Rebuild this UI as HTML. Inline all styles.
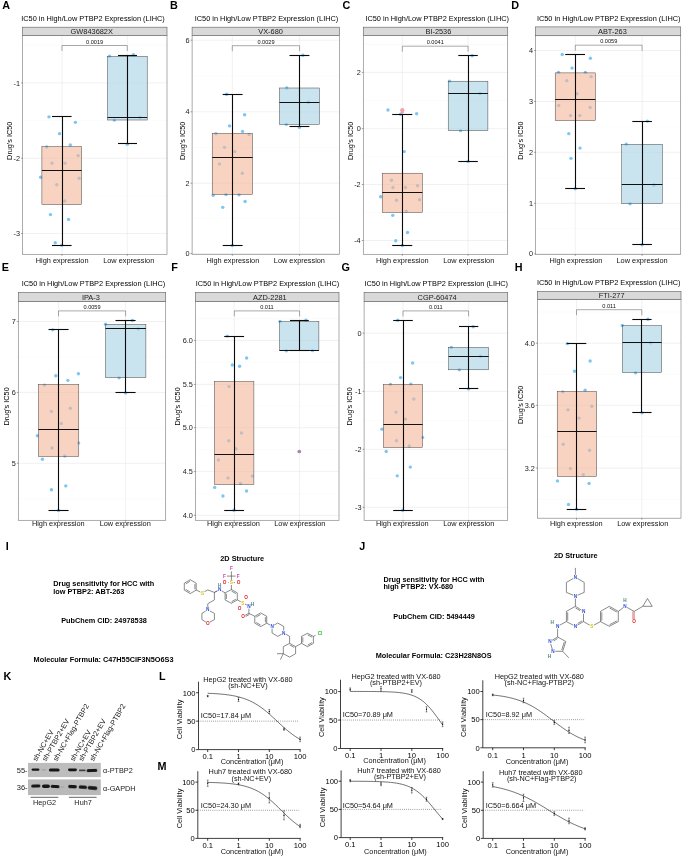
<!DOCTYPE html>
<html><head><meta charset="utf-8"><title>Figure</title>
<style>html,body{margin:0;padding:0;background:#fff}svg{display:block}</style></head>
<body>
<svg width="685" height="857" viewBox="0 0 685 857" font-family="Liberation Sans, Arial, sans-serif">
<rect width="685" height="857" fill="#fff"/>
<rect x="22.6" y="35.6" width="144.4" height="218.7" fill="#fff"/>
<line x1="22.6" x2="167" y1="120.55" y2="120.55" stroke="#f2f2f2" stroke-width="0.35"/>
<line x1="22.6" x2="167" y1="195.85" y2="195.85" stroke="#f2f2f2" stroke-width="0.35"/>
<line x1="22.6" x2="167" y1="45.25" y2="45.25" stroke="#f2f2f2" stroke-width="0.35"/>
<line x1="22.6" x2="167" y1="82.9" y2="82.9" stroke="#e6e6e6" stroke-width="0.55"/>
<line x1="22.6" x2="167" y1="158.2" y2="158.2" stroke="#e6e6e6" stroke-width="0.55"/>
<line x1="22.6" x2="167" y1="233.5" y2="233.5" stroke="#e6e6e6" stroke-width="0.55"/>
<line x1="62" x2="62" y1="35.6" y2="254.3" stroke="#e6e6e6" stroke-width="0.55"/>
<line x1="127.3" x2="127.3" y1="35.6" y2="254.3" stroke="#e6e6e6" stroke-width="0.55"/>
<circle cx="48.99" cy="116.83" r="1.7" fill="#7cc6f4"/>
<circle cx="75.38" cy="122.36" r="1.7" fill="#7cc6f4"/>
<circle cx="59.55" cy="133.67" r="1.7" fill="#7cc6f4"/>
<circle cx="109.55" cy="56.28" r="1.7" fill="#7cc6f4"/>
<circle cx="133.42" cy="54.77" r="1.7" fill="#7cc6f4"/>
<circle cx="114.32" cy="120.1" r="1.7" fill="#7cc6f4"/>
<circle cx="139.95" cy="117.34" r="1.7" fill="#7cc6f4"/>
<circle cx="70.31" cy="145.07" r="1.7" fill="#7cc6f4"/>
<circle cx="46.7" cy="147.07" r="1.7" fill="#7cc6f4"/>
<circle cx="78.09" cy="155.61" r="1.7" fill="#7cc6f4"/>
<circle cx="51.98" cy="163.15" r="1.7" fill="#7cc6f4"/>
<circle cx="65.03" cy="163.15" r="1.7" fill="#7cc6f4"/>
<circle cx="40.68" cy="177.21" r="1.7" fill="#7cc6f4"/>
<circle cx="79.1" cy="178.21" r="1.7" fill="#7cc6f4"/>
<circle cx="56.75" cy="184.74" r="1.7" fill="#7cc6f4"/>
<circle cx="64.78" cy="201.06" r="1.7" fill="#7cc6f4"/>
<circle cx="50.47" cy="214.62" r="1.7" fill="#7cc6f4"/>
<circle cx="68.55" cy="219.39" r="1.7" fill="#7cc6f4"/>
<circle cx="55.24" cy="242.74" r="1.7" fill="#7cc6f4"/>
<circle cx="61.77" cy="245.25" r="1.7" fill="#7cc6f4"/>
<circle cx="127.31" cy="144.31" r="1.7" fill="#7cc6f4"/>
<rect x="41.9" y="146.6" width="39.7" height="58" fill="#f5b698" fill-opacity="0.6" stroke="#333" stroke-width="0.45"/>
<line x1="41.9" x2="81.6" y1="170.5" y2="170.5" stroke="#111" stroke-width="1.05"/>
<line x1="62.5" x2="62.5" y1="116.5" y2="245.5" stroke="#0a0a0a" stroke-width="1.1"/>
<line x1="52" x2="71.6" y1="116.5" y2="116.5" stroke="#0a0a0a" stroke-width="1.1"/>
<line x1="52" x2="71.6" y1="245.5" y2="245.5" stroke="#0a0a0a" stroke-width="1.1"/>
<rect x="107.5" y="56.3" width="39.7" height="63.7" fill="#a5d0e4" fill-opacity="0.6" stroke="#333" stroke-width="0.45"/>
<line x1="107.5" x2="147.2" y1="117.5" y2="117.5" stroke="#111" stroke-width="1.05"/>
<line x1="127.5" x2="127.5" y1="55.5" y2="143.5" stroke="#0a0a0a" stroke-width="1.1"/>
<line x1="118" x2="137" y1="55.5" y2="55.5" stroke="#0a0a0a" stroke-width="1.1"/>
<line x1="118" x2="137" y1="143.5" y2="143.5" stroke="#0a0a0a" stroke-width="1.1"/>
<path d="M62 51V45.5H127.3V51" fill="none" stroke="#555" stroke-width="0.5" stroke-linejoin="round"/>
<text x="94.65" y="43.5" font-size="5.6" text-anchor="middle" fill="#111" >0.0019</text>
<rect x="22.6" y="35.6" width="144.4" height="218.7" fill="none" stroke="#808080" stroke-width="0.65"/>
<rect x="22.6" y="27.2" width="144.4" height="8.4" fill="#d9d9d9" stroke="#666" stroke-width="0.65"/>
<text x="91.75" y="34.05" font-size="7.4" text-anchor="middle" fill="#1a1a1a" >GW843682X</text>
<text x="93" y="20.9" font-size="7.36" text-anchor="middle" fill="#000" >IC50 in High/Low PTBP2 Expression (LIHC)</text>
<line x1="21.1" x2="22.6" y1="82.9" y2="82.9" stroke="#444" stroke-width="0.5"/>
<text x="20" y="85.5" font-size="7.3" text-anchor="end" fill="#222" >-1</text>
<line x1="21.1" x2="22.6" y1="158.2" y2="158.2" stroke="#444" stroke-width="0.5"/>
<text x="20" y="160.8" font-size="7.3" text-anchor="end" fill="#222" >-2</text>
<line x1="21.1" x2="22.6" y1="233.5" y2="233.5" stroke="#444" stroke-width="0.5"/>
<text x="20" y="236.1" font-size="7.3" text-anchor="end" fill="#222" >-3</text>
<line x1="62" x2="62" y1="254.3" y2="255.8" stroke="#444" stroke-width="0.5"/>
<text x="62.1" y="262.7" font-size="7.36" text-anchor="middle" fill="#111" >High expression</text>
<line x1="127.3" x2="127.3" y1="254.3" y2="255.8" stroke="#444" stroke-width="0.5"/>
<text x="128.7" y="262.7" font-size="7.36" text-anchor="middle" fill="#111" >Low expression</text>
<text x="11.8" y="140.75" font-size="7.3" text-anchor="middle" fill="#000" transform="rotate(-90 11.8 140.75)" >Drug's IC50</text>
<text x="2.2" y="9" font-size="10.8" text-anchor="start" fill="#000" font-weight="bold" >A</text>
<rect x="192.1" y="35.6" width="147.4" height="218.7" fill="#fff"/>
<line x1="192.1" x2="339.5" y1="76" y2="76" stroke="#f2f2f2" stroke-width="0.35"/>
<line x1="192.1" x2="339.5" y1="147.5" y2="147.5" stroke="#f2f2f2" stroke-width="0.35"/>
<line x1="192.1" x2="339.5" y1="218.35" y2="218.35" stroke="#f2f2f2" stroke-width="0.35"/>
<line x1="192.1" x2="339.5" y1="40.2" y2="40.2" stroke="#e6e6e6" stroke-width="0.55"/>
<line x1="192.1" x2="339.5" y1="111.8" y2="111.8" stroke="#e6e6e6" stroke-width="0.55"/>
<line x1="192.1" x2="339.5" y1="183.2" y2="183.2" stroke="#e6e6e6" stroke-width="0.55"/>
<line x1="192.1" x2="339.5" y1="253.5" y2="253.5" stroke="#e6e6e6" stroke-width="0.55"/>
<line x1="232.3" x2="232.3" y1="35.6" y2="254.3" stroke="#e6e6e6" stroke-width="0.55"/>
<line x1="299.6" x2="299.6" y1="35.6" y2="254.3" stroke="#e6e6e6" stroke-width="0.55"/>
<circle cx="226.52" cy="94.22" r="1.7" fill="#7cc6f4"/>
<circle cx="244.61" cy="114.82" r="1.7" fill="#7cc6f4"/>
<circle cx="229.54" cy="125.88" r="1.7" fill="#7cc6f4"/>
<circle cx="242.6" cy="131.41" r="1.7" fill="#7cc6f4"/>
<circle cx="302.9" cy="55.28" r="1.7" fill="#7cc6f4"/>
<circle cx="286.82" cy="87.94" r="1.7" fill="#7cc6f4"/>
<circle cx="308.43" cy="102.26" r="1.7" fill="#7cc6f4"/>
<circle cx="286.32" cy="124.37" r="1.7" fill="#7cc6f4"/>
<circle cx="299.39" cy="127.39" r="1.7" fill="#7cc6f4"/>
<circle cx="215.94" cy="133.77" r="1.7" fill="#7cc6f4"/>
<circle cx="249.09" cy="134.52" r="1.7" fill="#7cc6f4"/>
<circle cx="224.48" cy="147.33" r="1.7" fill="#7cc6f4"/>
<circle cx="234.78" cy="151.59" r="1.7" fill="#7cc6f4"/>
<circle cx="219.46" cy="163.9" r="1.7" fill="#7cc6f4"/>
<circle cx="242.31" cy="173.19" r="1.7" fill="#7cc6f4"/>
<circle cx="213.18" cy="195.29" r="1.7" fill="#7cc6f4"/>
<circle cx="225.99" cy="194.53" r="1.7" fill="#7cc6f4"/>
<circle cx="239.04" cy="194.78" r="1.7" fill="#7cc6f4"/>
<circle cx="245.07" cy="201.56" r="1.7" fill="#7cc6f4"/>
<circle cx="222.72" cy="207.34" r="1.7" fill="#7cc6f4"/>
<circle cx="232.26" cy="245.51" r="1.7" fill="#7cc6f4"/>
<rect x="212.2" y="133.3" width="40.4" height="61.2" fill="#f5b698" fill-opacity="0.6" stroke="#333" stroke-width="0.45"/>
<line x1="212.2" x2="252.6" y1="157.5" y2="157.5" stroke="#111" stroke-width="1.05"/>
<line x1="232.5" x2="232.5" y1="94.5" y2="245.5" stroke="#0a0a0a" stroke-width="1.1"/>
<line x1="222.7" x2="242.6" y1="94.5" y2="94.5" stroke="#0a0a0a" stroke-width="1.1"/>
<line x1="222.7" x2="242.6" y1="245.5" y2="245.5" stroke="#0a0a0a" stroke-width="1.1"/>
<rect x="279.5" y="88" width="39.9" height="36.4" fill="#a5d0e4" fill-opacity="0.6" stroke="#333" stroke-width="0.45"/>
<line x1="279.5" x2="319.4" y1="102.5" y2="102.5" stroke="#111" stroke-width="1.05"/>
<line x1="299.5" x2="299.5" y1="55.5" y2="126.5" stroke="#0a0a0a" stroke-width="1.1"/>
<line x1="289.5" x2="309.4" y1="55.5" y2="55.5" stroke="#0a0a0a" stroke-width="1.1"/>
<line x1="289.5" x2="309.4" y1="126.5" y2="126.5" stroke="#0a0a0a" stroke-width="1.1"/>
<path d="M232.3 51.2V45.7H299.6V51.2" fill="none" stroke="#555" stroke-width="0.5" stroke-linejoin="round"/>
<text x="265.95" y="43.7" font-size="5.6" text-anchor="middle" fill="#111" >0.0029</text>
<rect x="192.1" y="35.6" width="147.4" height="218.7" fill="none" stroke="#808080" stroke-width="0.65"/>
<rect x="192.1" y="27.2" width="147.4" height="8.4" fill="#d9d9d9" stroke="#666" stroke-width="0.65"/>
<text x="270.6" y="34.05" font-size="7.4" text-anchor="middle" fill="#1a1a1a" >VX-680</text>
<text x="266.5" y="20.9" font-size="7.36" text-anchor="middle" fill="#000" >IC50 in High/Low PTBP2 Expression (LIHC)</text>
<line x1="190.6" x2="192.1" y1="40.2" y2="40.2" stroke="#444" stroke-width="0.5"/>
<text x="189.5" y="42.8" font-size="7.3" text-anchor="end" fill="#222" >6</text>
<line x1="190.6" x2="192.1" y1="111.8" y2="111.8" stroke="#444" stroke-width="0.5"/>
<text x="189.5" y="114.4" font-size="7.3" text-anchor="end" fill="#222" >4</text>
<line x1="190.6" x2="192.1" y1="183.2" y2="183.2" stroke="#444" stroke-width="0.5"/>
<text x="189.5" y="185.8" font-size="7.3" text-anchor="end" fill="#222" >2</text>
<line x1="190.6" x2="192.1" y1="253.5" y2="253.5" stroke="#444" stroke-width="0.5"/>
<text x="189.5" y="256.1" font-size="7.3" text-anchor="end" fill="#222" >0</text>
<line x1="232.3" x2="232.3" y1="254.3" y2="255.8" stroke="#444" stroke-width="0.5"/>
<text x="232.9" y="262.7" font-size="7.36" text-anchor="middle" fill="#111" >High expression</text>
<line x1="299.6" x2="299.6" y1="254.3" y2="255.8" stroke="#444" stroke-width="0.5"/>
<text x="299.4" y="262.7" font-size="7.36" text-anchor="middle" fill="#111" >Low expression</text>
<text x="184.6" y="140.75" font-size="7.3" text-anchor="middle" fill="#000" transform="rotate(-90 184.6 140.75)" >Drug's IC50</text>
<text x="170.1" y="9" font-size="10.8" text-anchor="start" fill="#000" font-weight="bold" >B</text>
<rect x="363.3" y="35.6" width="144.4" height="218.7" fill="#fff"/>
<line x1="363.3" x2="507.7" y1="100.5" y2="100.5" stroke="#f2f2f2" stroke-width="0.35"/>
<line x1="363.3" x2="507.7" y1="156.55" y2="156.55" stroke="#f2f2f2" stroke-width="0.35"/>
<line x1="363.3" x2="507.7" y1="212.5" y2="212.5" stroke="#f2f2f2" stroke-width="0.35"/>
<line x1="363.3" x2="507.7" y1="44.38" y2="44.38" stroke="#f2f2f2" stroke-width="0.35"/>
<line x1="363.3" x2="507.7" y1="72.4" y2="72.4" stroke="#e6e6e6" stroke-width="0.55"/>
<line x1="363.3" x2="507.7" y1="128.6" y2="128.6" stroke="#e6e6e6" stroke-width="0.55"/>
<line x1="363.3" x2="507.7" y1="184.5" y2="184.5" stroke="#e6e6e6" stroke-width="0.55"/>
<line x1="363.3" x2="507.7" y1="240.5" y2="240.5" stroke="#e6e6e6" stroke-width="0.55"/>
<line x1="402.3" x2="402.3" y1="35.6" y2="254.3" stroke="#e6e6e6" stroke-width="0.55"/>
<line x1="468.1" x2="468.1" y1="35.6" y2="254.3" stroke="#e6e6e6" stroke-width="0.55"/>
<circle cx="387.98" cy="110.05" r="1.7" fill="#7cc6f4"/>
<circle cx="400.54" cy="114.32" r="1.7" fill="#7cc6f4"/>
<circle cx="416.62" cy="113.82" r="1.7" fill="#7cc6f4"/>
<circle cx="472.15" cy="55.78" r="1.7" fill="#7cc6f4"/>
<circle cx="449.54" cy="81.16" r="1.7" fill="#7cc6f4"/>
<circle cx="479.94" cy="93.47" r="1.7" fill="#7cc6f4"/>
<circle cx="460.59" cy="130.65" r="1.7" fill="#7cc6f4"/>
<circle cx="404.27" cy="151.59" r="1.7" fill="#7cc6f4"/>
<circle cx="391.47" cy="180.22" r="1.7" fill="#7cc6f4"/>
<circle cx="392.97" cy="187.5" r="1.7" fill="#7cc6f4"/>
<circle cx="405.53" cy="187.5" r="1.7" fill="#7cc6f4"/>
<circle cx="417.58" cy="185.74" r="1.7" fill="#7cc6f4"/>
<circle cx="380.67" cy="196.79" r="1.7" fill="#7cc6f4"/>
<circle cx="396.49" cy="200.31" r="1.7" fill="#7cc6f4"/>
<circle cx="419.59" cy="199.81" r="1.7" fill="#7cc6f4"/>
<circle cx="406.28" cy="211.11" r="1.7" fill="#7cc6f4"/>
<circle cx="392.72" cy="215.37" r="1.7" fill="#7cc6f4"/>
<circle cx="407.54" cy="232.45" r="1.7" fill="#7cc6f4"/>
<circle cx="395.74" cy="240.74" r="1.7" fill="#7cc6f4"/>
<circle cx="402.26" cy="245.51" r="1.7" fill="#7cc6f4"/>
<circle cx="468.05" cy="161.39" r="1.7" fill="#7cc6f4"/>
<circle cx="402.3" cy="110.2" r="2.1" fill="#f8a0a5"/>
<circle cx="402.3" cy="112.2" r="1.5" fill="#f8a0a5"/>
<rect x="382.2" y="173.2" width="40.2" height="39.2" fill="#f5b698" fill-opacity="0.6" stroke="#333" stroke-width="0.45"/>
<line x1="382.2" x2="422.4" y1="192.5" y2="192.5" stroke="#111" stroke-width="1.05"/>
<line x1="402.5" x2="402.5" y1="114.5" y2="245.5" stroke="#0a0a0a" stroke-width="1.1"/>
<line x1="392.2" x2="412.3" y1="114.5" y2="114.5" stroke="#0a0a0a" stroke-width="1.1"/>
<line x1="392.2" x2="412.3" y1="245.5" y2="245.5" stroke="#0a0a0a" stroke-width="1.1"/>
<rect x="448.2" y="81.2" width="39.7" height="49.4" fill="#a5d0e4" fill-opacity="0.6" stroke="#333" stroke-width="0.45"/>
<line x1="448.2" x2="487.9" y1="93.5" y2="93.5" stroke="#111" stroke-width="1.05"/>
<line x1="468.5" x2="468.5" y1="55.5" y2="161.5" stroke="#0a0a0a" stroke-width="1.1"/>
<line x1="458.3" x2="477.8" y1="55.5" y2="55.5" stroke="#0a0a0a" stroke-width="1.1"/>
<line x1="458.3" x2="477.8" y1="161.5" y2="161.5" stroke="#0a0a0a" stroke-width="1.1"/>
<path d="M402.3 51.7V46.2H468.1V51.7" fill="none" stroke="#555" stroke-width="0.5" stroke-linejoin="round"/>
<text x="435.2" y="44.2" font-size="5.6" text-anchor="middle" fill="#111" >0.0041</text>
<rect x="363.3" y="35.6" width="144.4" height="218.7" fill="none" stroke="#808080" stroke-width="0.65"/>
<rect x="363.3" y="27.2" width="144.4" height="8.4" fill="#d9d9d9" stroke="#666" stroke-width="0.65"/>
<text x="438.4" y="34.05" font-size="7.4" text-anchor="middle" fill="#1a1a1a" >BI-2536</text>
<text x="437.2" y="20.9" font-size="7.36" text-anchor="middle" fill="#000" >IC50 in High/Low PTBP2 Expression (LIHC)</text>
<line x1="361.8" x2="363.3" y1="72.4" y2="72.4" stroke="#444" stroke-width="0.5"/>
<text x="360.7" y="75" font-size="7.3" text-anchor="end" fill="#222" >2</text>
<line x1="361.8" x2="363.3" y1="128.6" y2="128.6" stroke="#444" stroke-width="0.5"/>
<text x="360.7" y="131.2" font-size="7.3" text-anchor="end" fill="#222" >0</text>
<line x1="361.8" x2="363.3" y1="184.5" y2="184.5" stroke="#444" stroke-width="0.5"/>
<text x="360.7" y="187.1" font-size="7.3" text-anchor="end" fill="#222" >-2</text>
<line x1="361.8" x2="363.3" y1="240.5" y2="240.5" stroke="#444" stroke-width="0.5"/>
<text x="360.7" y="243.1" font-size="7.3" text-anchor="end" fill="#222" >-4</text>
<line x1="402.3" x2="402.3" y1="254.3" y2="255.8" stroke="#444" stroke-width="0.5"/>
<text x="402.3" y="262.7" font-size="7.36" text-anchor="middle" fill="#111" >High expression</text>
<line x1="468.1" x2="468.1" y1="254.3" y2="255.8" stroke="#444" stroke-width="0.5"/>
<text x="468.7" y="262.7" font-size="7.36" text-anchor="middle" fill="#111" >Low expression</text>
<text x="353.4" y="140.75" font-size="7.3" text-anchor="middle" fill="#000" transform="rotate(-90 353.4 140.75)" >Drug's IC50</text>
<text x="342.6" y="9" font-size="10.8" text-anchor="start" fill="#000" font-weight="bold" >C</text>
<rect x="535.6" y="35.7" width="145.1" height="218.6" fill="#fff"/>
<line x1="535.6" x2="680.7" y1="76" y2="76" stroke="#f2f2f2" stroke-width="0.35"/>
<line x1="535.6" x2="680.7" y1="126.9" y2="126.9" stroke="#f2f2f2" stroke-width="0.35"/>
<line x1="535.6" x2="680.7" y1="177.8" y2="177.8" stroke="#f2f2f2" stroke-width="0.35"/>
<line x1="535.6" x2="680.7" y1="228.55" y2="228.55" stroke="#f2f2f2" stroke-width="0.35"/>
<line x1="535.6" x2="680.7" y1="50.5" y2="50.5" stroke="#e6e6e6" stroke-width="0.55"/>
<line x1="535.6" x2="680.7" y1="101.5" y2="101.5" stroke="#e6e6e6" stroke-width="0.55"/>
<line x1="535.6" x2="680.7" y1="152.3" y2="152.3" stroke="#e6e6e6" stroke-width="0.55"/>
<line x1="535.6" x2="680.7" y1="203.3" y2="203.3" stroke="#e6e6e6" stroke-width="0.55"/>
<line x1="535.6" x2="680.7" y1="253.8" y2="253.8" stroke="#e6e6e6" stroke-width="0.55"/>
<line x1="575.3" x2="575.3" y1="35.7" y2="254.3" stroke="#e6e6e6" stroke-width="0.55"/>
<line x1="642.1" x2="642.1" y1="35.7" y2="254.3" stroke="#e6e6e6" stroke-width="0.55"/>
<circle cx="562.25" cy="54.52" r="1.7" fill="#7cc6f4"/>
<circle cx="590.39" cy="58.29" r="1.7" fill="#7cc6f4"/>
<circle cx="572.05" cy="68.09" r="1.7" fill="#7cc6f4"/>
<circle cx="558.48" cy="72.36" r="1.7" fill="#7cc6f4"/>
<circle cx="585.36" cy="72.36" r="1.7" fill="#7cc6f4"/>
<circle cx="591.14" cy="76.63" r="1.7" fill="#7cc6f4"/>
<circle cx="566.77" cy="80.65" r="1.7" fill="#7cc6f4"/>
<circle cx="577.07" cy="93.72" r="1.7" fill="#7cc6f4"/>
<circle cx="558.73" cy="105.53" r="1.7" fill="#7cc6f4"/>
<circle cx="590.14" cy="107.54" r="1.7" fill="#7cc6f4"/>
<circle cx="570.54" cy="115.58" r="1.7" fill="#7cc6f4"/>
<circle cx="579.83" cy="115.58" r="1.7" fill="#7cc6f4"/>
<circle cx="568.78" cy="133.67" r="1.7" fill="#7cc6f4"/>
<circle cx="647.42" cy="121.11" r="1.7" fill="#7cc6f4"/>
<circle cx="580.04" cy="148.08" r="1.7" fill="#7cc6f4"/>
<circle cx="571" cy="158.37" r="1.7" fill="#7cc6f4"/>
<circle cx="575.27" cy="188.76" r="1.7" fill="#7cc6f4"/>
<circle cx="626.25" cy="144.31" r="1.7" fill="#7cc6f4"/>
<circle cx="653.87" cy="184.99" r="1.7" fill="#7cc6f4"/>
<circle cx="630.01" cy="203.82" r="1.7" fill="#7cc6f4"/>
<circle cx="642.07" cy="244.75" r="1.7" fill="#7cc6f4"/>
<rect x="555.2" y="72.9" width="40.2" height="47.7" fill="#f5b698" fill-opacity="0.6" stroke="#333" stroke-width="0.45"/>
<line x1="555.2" x2="595.4" y1="99.5" y2="99.5" stroke="#111" stroke-width="1.05"/>
<line x1="575.5" x2="575.5" y1="54.5" y2="188.5" stroke="#0a0a0a" stroke-width="1.1"/>
<line x1="565.2" x2="585" y1="54.5" y2="54.5" stroke="#0a0a0a" stroke-width="1.1"/>
<line x1="565.2" x2="585" y1="188.5" y2="188.5" stroke="#0a0a0a" stroke-width="1.1"/>
<rect x="621.7" y="144.3" width="40.7" height="59.3" fill="#a5d0e4" fill-opacity="0.6" stroke="#333" stroke-width="0.45"/>
<line x1="621.7" x2="662.4" y1="184.5" y2="184.5" stroke="#111" stroke-width="1.05"/>
<line x1="642.5" x2="642.5" y1="121.5" y2="244.5" stroke="#0a0a0a" stroke-width="1.1"/>
<line x1="632.3" x2="651.9" y1="121.5" y2="121.5" stroke="#0a0a0a" stroke-width="1.1"/>
<line x1="632.3" x2="651.9" y1="244.5" y2="244.5" stroke="#0a0a0a" stroke-width="1.1"/>
<path d="M575.3 50.7V45.2H642.1V50.7" fill="none" stroke="#555" stroke-width="0.5" stroke-linejoin="round"/>
<text x="608.7" y="43.2" font-size="5.6" text-anchor="middle" fill="#111" >0.0059</text>
<rect x="535.6" y="35.7" width="145.1" height="218.6" fill="none" stroke="#808080" stroke-width="0.65"/>
<rect x="535.6" y="26.9" width="145.1" height="8.8" fill="#d9d9d9" stroke="#666" stroke-width="0.65"/>
<text x="612.4" y="33.95" font-size="7.4" text-anchor="middle" fill="#1a1a1a" >ABT-263</text>
<text x="608.7" y="20.6" font-size="7.36" text-anchor="middle" fill="#000" >IC50 in High/Low PTBP2 Expression (LIHC)</text>
<line x1="534.1" x2="535.6" y1="50.5" y2="50.5" stroke="#444" stroke-width="0.5"/>
<text x="533" y="53.1" font-size="7.3" text-anchor="end" fill="#222" >4</text>
<line x1="534.1" x2="535.6" y1="101.5" y2="101.5" stroke="#444" stroke-width="0.5"/>
<text x="533" y="104.1" font-size="7.3" text-anchor="end" fill="#222" >3</text>
<line x1="534.1" x2="535.6" y1="152.3" y2="152.3" stroke="#444" stroke-width="0.5"/>
<text x="533" y="154.9" font-size="7.3" text-anchor="end" fill="#222" >2</text>
<line x1="534.1" x2="535.6" y1="203.3" y2="203.3" stroke="#444" stroke-width="0.5"/>
<text x="533" y="205.9" font-size="7.3" text-anchor="end" fill="#222" >1</text>
<line x1="534.1" x2="535.6" y1="253.8" y2="253.8" stroke="#444" stroke-width="0.5"/>
<text x="533" y="256.4" font-size="7.3" text-anchor="end" fill="#222" >0</text>
<line x1="575.3" x2="575.3" y1="254.3" y2="255.8" stroke="#444" stroke-width="0.5"/>
<text x="576" y="262.7" font-size="7.36" text-anchor="middle" fill="#111" >High expression</text>
<line x1="642.1" x2="642.1" y1="254.3" y2="255.8" stroke="#444" stroke-width="0.5"/>
<text x="642.1" y="262.7" font-size="7.36" text-anchor="middle" fill="#111" >Low expression</text>
<text x="523.1" y="140.6" font-size="7.3" text-anchor="middle" fill="#000" transform="rotate(-90 523.1 140.6)" >Drug's IC50</text>
<text x="511.3" y="9" font-size="10.8" text-anchor="start" fill="#000" font-weight="bold" >D</text>
<rect x="18.3" y="301.4" width="147.4" height="218.9" fill="#fff"/>
<line x1="18.3" x2="165.7" y1="356.95" y2="356.95" stroke="#f2f2f2" stroke-width="0.35"/>
<line x1="18.3" x2="165.7" y1="427.85" y2="427.85" stroke="#f2f2f2" stroke-width="0.35"/>
<line x1="18.3" x2="165.7" y1="498.75" y2="498.75" stroke="#f2f2f2" stroke-width="0.35"/>
<line x1="18.3" x2="165.7" y1="321.5" y2="321.5" stroke="#e6e6e6" stroke-width="0.55"/>
<line x1="18.3" x2="165.7" y1="392.4" y2="392.4" stroke="#e6e6e6" stroke-width="0.55"/>
<line x1="18.3" x2="165.7" y1="463.3" y2="463.3" stroke="#e6e6e6" stroke-width="0.55"/>
<line x1="58.5" x2="58.5" y1="301.4" y2="520.3" stroke="#e6e6e6" stroke-width="0.55"/>
<line x1="125.6" x2="125.6" y1="301.4" y2="520.3" stroke="#e6e6e6" stroke-width="0.55"/>
<circle cx="52.76" cy="329.84" r="1.7" fill="#7cc6f4"/>
<circle cx="55.78" cy="375.82" r="1.7" fill="#7cc6f4"/>
<circle cx="78.39" cy="373.81" r="1.7" fill="#7cc6f4"/>
<circle cx="67.84" cy="380.34" r="1.7" fill="#7cc6f4"/>
<circle cx="44.47" cy="385.12" r="1.7" fill="#7cc6f4"/>
<circle cx="105.53" cy="324.31" r="1.7" fill="#7cc6f4"/>
<circle cx="132.41" cy="320.54" r="1.7" fill="#7cc6f4"/>
<circle cx="138.19" cy="328.83" r="1.7" fill="#7cc6f4"/>
<circle cx="119.1" cy="377.83" r="1.7" fill="#7cc6f4"/>
<circle cx="125.63" cy="392.9" r="1.7" fill="#7cc6f4"/>
<circle cx="51.48" cy="411.33" r="1.7" fill="#7cc6f4"/>
<circle cx="70.31" cy="408.32" r="1.7" fill="#7cc6f4"/>
<circle cx="61.27" cy="423.39" r="1.7" fill="#7cc6f4"/>
<circle cx="37.41" cy="435.69" r="1.7" fill="#7cc6f4"/>
<circle cx="78.59" cy="442.97" r="1.7" fill="#7cc6f4"/>
<circle cx="51.98" cy="448" r="1.7" fill="#7cc6f4"/>
<circle cx="42.44" cy="459.29" r="1.7" fill="#7cc6f4"/>
<circle cx="64.78" cy="456.03" r="1.7" fill="#7cc6f4"/>
<circle cx="51.48" cy="489.68" r="1.7" fill="#7cc6f4"/>
<circle cx="65.79" cy="485.91" r="1.7" fill="#7cc6f4"/>
<circle cx="58.51" cy="510.52" r="1.7" fill="#7cc6f4"/>
<rect x="38.4" y="384.4" width="40.4" height="72.1" fill="#f5b698" fill-opacity="0.6" stroke="#333" stroke-width="0.45"/>
<line x1="38.4" x2="78.8" y1="429.5" y2="429.5" stroke="#111" stroke-width="1.05"/>
<line x1="58.5" x2="58.5" y1="329.5" y2="510.5" stroke="#0a0a0a" stroke-width="1.1"/>
<line x1="48.5" x2="68.6" y1="329.5" y2="329.5" stroke="#0a0a0a" stroke-width="1.1"/>
<line x1="48.5" x2="68.6" y1="510.5" y2="510.5" stroke="#0a0a0a" stroke-width="1.1"/>
<rect x="105.5" y="324.3" width="40.4" height="53.3" fill="#a5d0e4" fill-opacity="0.6" stroke="#333" stroke-width="0.45"/>
<line x1="105.5" x2="145.9" y1="328.5" y2="328.5" stroke="#111" stroke-width="1.05"/>
<line x1="125.5" x2="125.5" y1="320.5" y2="392.5" stroke="#0a0a0a" stroke-width="1.1"/>
<line x1="115.5" x2="135.6" y1="320.5" y2="320.5" stroke="#0a0a0a" stroke-width="1.1"/>
<line x1="115.5" x2="135.6" y1="392.5" y2="392.5" stroke="#0a0a0a" stroke-width="1.1"/>
<path d="M58.5 316.4V310.9H125.6V316.4" fill="none" stroke="#555" stroke-width="0.5" stroke-linejoin="round"/>
<text x="92.05" y="308.9" font-size="5.6" text-anchor="middle" fill="#111" >0.0059</text>
<rect x="18.3" y="301.4" width="147.4" height="218.9" fill="none" stroke="#808080" stroke-width="0.65"/>
<rect x="18.3" y="292.6" width="147.4" height="8.8" fill="#d9d9d9" stroke="#666" stroke-width="0.65"/>
<text x="90.9" y="299.65" font-size="7.4" text-anchor="middle" fill="#1a1a1a" >IPA-3</text>
<text x="93.5" y="286.3" font-size="7.36" text-anchor="middle" fill="#000" >IC50 in High/Low PTBP2 Expression (LIHC)</text>
<line x1="16.8" x2="18.3" y1="321.5" y2="321.5" stroke="#444" stroke-width="0.5"/>
<text x="15.7" y="324.1" font-size="7.3" text-anchor="end" fill="#222" >7</text>
<line x1="16.8" x2="18.3" y1="392.4" y2="392.4" stroke="#444" stroke-width="0.5"/>
<text x="15.7" y="395" font-size="7.3" text-anchor="end" fill="#222" >6</text>
<line x1="16.8" x2="18.3" y1="463.3" y2="463.3" stroke="#444" stroke-width="0.5"/>
<text x="15.7" y="465.9" font-size="7.3" text-anchor="end" fill="#222" >5</text>
<line x1="58.5" x2="58.5" y1="520.3" y2="521.8" stroke="#444" stroke-width="0.5"/>
<text x="58.3" y="526.4" font-size="7.36" text-anchor="middle" fill="#111" >High expression</text>
<line x1="125.6" x2="125.6" y1="520.3" y2="521.8" stroke="#444" stroke-width="0.5"/>
<text x="125.2" y="526.4" font-size="7.36" text-anchor="middle" fill="#111" >Low expression</text>
<text x="8.9" y="406.45" font-size="7.3" text-anchor="middle" fill="#000" transform="rotate(-90 8.9 406.45)" >Drug's IC50</text>
<text x="1.8" y="271.4" font-size="10.8" text-anchor="start" fill="#000" font-weight="bold" >E</text>
<rect x="195.4" y="301.4" width="143.6" height="218.9" fill="#fff"/>
<line x1="195.4" x2="339" y1="362.4" y2="362.4" stroke="#f2f2f2" stroke-width="0.35"/>
<line x1="195.4" x2="339" y1="406.05" y2="406.05" stroke="#f2f2f2" stroke-width="0.35"/>
<line x1="195.4" x2="339" y1="449.65" y2="449.65" stroke="#f2f2f2" stroke-width="0.35"/>
<line x1="195.4" x2="339" y1="493.45" y2="493.45" stroke="#f2f2f2" stroke-width="0.35"/>
<line x1="195.4" x2="339" y1="318.54" y2="318.54" stroke="#f2f2f2" stroke-width="0.35"/>
<line x1="195.4" x2="339" y1="340.4" y2="340.4" stroke="#e6e6e6" stroke-width="0.55"/>
<line x1="195.4" x2="339" y1="384.4" y2="384.4" stroke="#e6e6e6" stroke-width="0.55"/>
<line x1="195.4" x2="339" y1="427.7" y2="427.7" stroke="#e6e6e6" stroke-width="0.55"/>
<line x1="195.4" x2="339" y1="471.6" y2="471.6" stroke="#e6e6e6" stroke-width="0.55"/>
<line x1="195.4" x2="339" y1="515.3" y2="515.3" stroke="#e6e6e6" stroke-width="0.55"/>
<line x1="234.3" x2="234.3" y1="301.4" y2="520.3" stroke="#e6e6e6" stroke-width="0.55"/>
<line x1="299.6" x2="299.6" y1="301.4" y2="520.3" stroke="#e6e6e6" stroke-width="0.55"/>
<circle cx="227.28" cy="336.12" r="1.7" fill="#7cc6f4"/>
<circle cx="246.62" cy="357.98" r="1.7" fill="#7cc6f4"/>
<circle cx="232.3" cy="365.02" r="1.7" fill="#7cc6f4"/>
<circle cx="239.59" cy="366.27" r="1.7" fill="#7cc6f4"/>
<circle cx="229.04" cy="386.62" r="1.7" fill="#7cc6f4"/>
<circle cx="280.04" cy="321.55" r="1.7" fill="#7cc6f4"/>
<circle cx="305.92" cy="320.29" r="1.7" fill="#7cc6f4"/>
<circle cx="286.32" cy="350.69" r="1.7" fill="#7cc6f4"/>
<circle cx="312.45" cy="350.44" r="1.7" fill="#7cc6f4"/>
<circle cx="241.55" cy="432.93" r="1.7" fill="#7cc6f4"/>
<circle cx="228.75" cy="440.71" r="1.7" fill="#7cc6f4"/>
<circle cx="236.03" cy="448.75" r="1.7" fill="#7cc6f4"/>
<circle cx="218.45" cy="460.05" r="1.7" fill="#7cc6f4"/>
<circle cx="252.35" cy="476.12" r="1.7" fill="#7cc6f4"/>
<circle cx="228" cy="477.88" r="1.7" fill="#7cc6f4"/>
<circle cx="240.55" cy="483.4" r="1.7" fill="#7cc6f4"/>
<circle cx="214.69" cy="487.42" r="1.7" fill="#7cc6f4"/>
<circle cx="246.58" cy="490.93" r="1.7" fill="#7cc6f4"/>
<circle cx="222.97" cy="495.96" r="1.7" fill="#7cc6f4"/>
<circle cx="234.02" cy="510.27" r="1.7" fill="#7cc6f4"/>
<circle cx="299.3" cy="451.5" r="1.85" fill="#aa82b4"/>
<rect x="214.4" y="381.6" width="39.5" height="102.8" fill="#f5b698" fill-opacity="0.6" stroke="#333" stroke-width="0.45"/>
<line x1="214.4" x2="253.9" y1="454.5" y2="454.5" stroke="#111" stroke-width="1.05"/>
<line x1="234.5" x2="234.5" y1="336.5" y2="510.5" stroke="#0a0a0a" stroke-width="1.1"/>
<line x1="224.2" x2="244.1" y1="336.5" y2="336.5" stroke="#0a0a0a" stroke-width="1.1"/>
<line x1="224.2" x2="244.1" y1="510.5" y2="510.5" stroke="#0a0a0a" stroke-width="1.1"/>
<rect x="279.5" y="321.5" width="39.4" height="28.9" fill="#a5d0e4" fill-opacity="0.6" stroke="#333" stroke-width="0.45"/>
<line x1="279.5" x2="318.9" y1="350.5" y2="350.5" stroke="#111" stroke-width="1.05"/>
<line x1="299.5" x2="299.5" y1="320.5" y2="350.5" stroke="#0a0a0a" stroke-width="1.1"/>
<line x1="290" x2="308.8" y1="320.5" y2="320.5" stroke="#0a0a0a" stroke-width="1.1"/>
<line x1="290" x2="308.8" y1="350.5" y2="350.5" stroke="#0a0a0a" stroke-width="1.1"/>
<path d="M234.3 316.4V310.9H299.6V316.4" fill="none" stroke="#555" stroke-width="0.5" stroke-linejoin="round"/>
<text x="266.95" y="308.9" font-size="5.6" text-anchor="middle" fill="#111" >0.011</text>
<rect x="195.4" y="301.4" width="143.6" height="218.9" fill="none" stroke="#808080" stroke-width="0.65"/>
<rect x="195.4" y="292.6" width="143.6" height="8.8" fill="#d9d9d9" stroke="#666" stroke-width="0.65"/>
<text x="269.9" y="299.65" font-size="7.4" text-anchor="middle" fill="#1a1a1a" >AZD-2281</text>
<text x="267.5" y="286.3" font-size="7.36" text-anchor="middle" fill="#000" >IC50 in High/Low PTBP2 Expression (LIHC)</text>
<line x1="193.9" x2="195.4" y1="340.4" y2="340.4" stroke="#444" stroke-width="0.5"/>
<text x="192.8" y="343" font-size="7.3" text-anchor="end" fill="#222" >6.0</text>
<line x1="193.9" x2="195.4" y1="384.4" y2="384.4" stroke="#444" stroke-width="0.5"/>
<text x="192.8" y="387" font-size="7.3" text-anchor="end" fill="#222" >5.5</text>
<line x1="193.9" x2="195.4" y1="427.7" y2="427.7" stroke="#444" stroke-width="0.5"/>
<text x="192.8" y="430.3" font-size="7.3" text-anchor="end" fill="#222" >5.0</text>
<line x1="193.9" x2="195.4" y1="471.6" y2="471.6" stroke="#444" stroke-width="0.5"/>
<text x="192.8" y="474.2" font-size="7.3" text-anchor="end" fill="#222" >4.5</text>
<line x1="193.9" x2="195.4" y1="515.3" y2="515.3" stroke="#444" stroke-width="0.5"/>
<text x="192.8" y="517.9" font-size="7.3" text-anchor="end" fill="#222" >4.0</text>
<line x1="234.3" x2="234.3" y1="520.3" y2="521.8" stroke="#444" stroke-width="0.5"/>
<text x="233.45" y="526.4" font-size="7.36" text-anchor="middle" fill="#111" >High expression</text>
<line x1="299.6" x2="299.6" y1="520.3" y2="521.8" stroke="#444" stroke-width="0.5"/>
<text x="299.85" y="526.4" font-size="7.36" text-anchor="middle" fill="#111" >Low expression</text>
<text x="180.1" y="406.45" font-size="7.3" text-anchor="middle" fill="#000" transform="rotate(-90 180.1 406.45)" >Drug's IC50</text>
<text x="171.3" y="271.4" font-size="10.8" text-anchor="start" fill="#000" font-weight="bold" >F</text>
<rect x="364.1" y="301.4" width="143.6" height="218.9" fill="#fff"/>
<line x1="364.1" x2="507.7" y1="362.25" y2="362.25" stroke="#f2f2f2" stroke-width="0.35"/>
<line x1="364.1" x2="507.7" y1="420.35" y2="420.35" stroke="#f2f2f2" stroke-width="0.35"/>
<line x1="364.1" x2="507.7" y1="478.3" y2="478.3" stroke="#f2f2f2" stroke-width="0.35"/>
<line x1="364.1" x2="507.7" y1="304.07" y2="304.07" stroke="#f2f2f2" stroke-width="0.35"/>
<line x1="364.1" x2="507.7" y1="333.1" y2="333.1" stroke="#e6e6e6" stroke-width="0.55"/>
<line x1="364.1" x2="507.7" y1="391.4" y2="391.4" stroke="#e6e6e6" stroke-width="0.55"/>
<line x1="364.1" x2="507.7" y1="449.3" y2="449.3" stroke="#e6e6e6" stroke-width="0.55"/>
<line x1="364.1" x2="507.7" y1="507.3" y2="507.3" stroke="#e6e6e6" stroke-width="0.55"/>
<line x1="403" x2="403" y1="301.4" y2="520.3" stroke="#e6e6e6" stroke-width="0.55"/>
<line x1="468.6" x2="468.6" y1="301.4" y2="520.3" stroke="#e6e6e6" stroke-width="0.55"/>
<circle cx="397.78" cy="320.29" r="1.7" fill="#7cc6f4"/>
<circle cx="412.6" cy="363.01" r="1.7" fill="#7cc6f4"/>
<circle cx="400.54" cy="377.58" r="1.7" fill="#7cc6f4"/>
<circle cx="390.49" cy="384.36" r="1.7" fill="#7cc6f4"/>
<circle cx="410.84" cy="384.11" r="1.7" fill="#7cc6f4"/>
<circle cx="473.16" cy="326.82" r="1.7" fill="#7cc6f4"/>
<circle cx="451.3" cy="347.43" r="1.7" fill="#7cc6f4"/>
<circle cx="480.44" cy="356.22" r="1.7" fill="#7cc6f4"/>
<circle cx="459.34" cy="369.79" r="1.7" fill="#7cc6f4"/>
<circle cx="468.63" cy="388.88" r="1.7" fill="#7cc6f4"/>
<circle cx="413.81" cy="399.03" r="1.7" fill="#7cc6f4"/>
<circle cx="395.99" cy="412.09" r="1.7" fill="#7cc6f4"/>
<circle cx="405.53" cy="419.12" r="1.7" fill="#7cc6f4"/>
<circle cx="381.92" cy="429.16" r="1.7" fill="#7cc6f4"/>
<circle cx="422.6" cy="437.45" r="1.7" fill="#7cc6f4"/>
<circle cx="396.49" cy="440.71" r="1.7" fill="#7cc6f4"/>
<circle cx="409.29" cy="445.99" r="1.7" fill="#7cc6f4"/>
<circle cx="386.19" cy="451.51" r="1.7" fill="#7cc6f4"/>
<circle cx="410.3" cy="467.08" r="1.7" fill="#7cc6f4"/>
<circle cx="397.24" cy="475.87" r="1.7" fill="#7cc6f4"/>
<circle cx="402.77" cy="510.27" r="1.7" fill="#7cc6f4"/>
<rect x="383.4" y="384.4" width="39.2" height="63.1" fill="#f5b698" fill-opacity="0.6" stroke="#333" stroke-width="0.45"/>
<line x1="383.4" x2="422.6" y1="424.5" y2="424.5" stroke="#111" stroke-width="1.05"/>
<line x1="403.5" x2="403.5" y1="320.5" y2="510.5" stroke="#0a0a0a" stroke-width="1.1"/>
<line x1="393.2" x2="412.8" y1="320.5" y2="320.5" stroke="#0a0a0a" stroke-width="1.1"/>
<line x1="393.2" x2="412.8" y1="510.5" y2="510.5" stroke="#0a0a0a" stroke-width="1.1"/>
<rect x="448.7" y="347.4" width="39.9" height="22.4" fill="#a5d0e4" fill-opacity="0.6" stroke="#333" stroke-width="0.45"/>
<line x1="448.7" x2="488.6" y1="356.5" y2="356.5" stroke="#111" stroke-width="1.05"/>
<line x1="468.5" x2="468.5" y1="326.5" y2="388.5" stroke="#0a0a0a" stroke-width="1.1"/>
<line x1="459" x2="478.3" y1="326.5" y2="326.5" stroke="#0a0a0a" stroke-width="1.1"/>
<line x1="459" x2="478.3" y1="388.5" y2="388.5" stroke="#0a0a0a" stroke-width="1.1"/>
<path d="M403 316.4V310.9H468.6V316.4" fill="none" stroke="#555" stroke-width="0.5" stroke-linejoin="round"/>
<text x="435.8" y="308.9" font-size="5.6" text-anchor="middle" fill="#111" >0.011</text>
<rect x="364.1" y="301.4" width="143.6" height="218.9" fill="none" stroke="#808080" stroke-width="0.65"/>
<rect x="364.1" y="292.6" width="143.6" height="8.8" fill="#d9d9d9" stroke="#666" stroke-width="0.65"/>
<text x="437.1" y="299.65" font-size="7.4" text-anchor="middle" fill="#1a1a1a" >CGP-60474</text>
<text x="436.3" y="286.3" font-size="7.36" text-anchor="middle" fill="#000" >IC50 in High/Low PTBP2 Expression (LIHC)</text>
<line x1="362.6" x2="364.1" y1="333.1" y2="333.1" stroke="#444" stroke-width="0.5"/>
<text x="361.5" y="335.7" font-size="7.3" text-anchor="end" fill="#222" >0</text>
<line x1="362.6" x2="364.1" y1="391.4" y2="391.4" stroke="#444" stroke-width="0.5"/>
<text x="361.5" y="394" font-size="7.3" text-anchor="end" fill="#222" >-1</text>
<line x1="362.6" x2="364.1" y1="449.3" y2="449.3" stroke="#444" stroke-width="0.5"/>
<text x="361.5" y="451.9" font-size="7.3" text-anchor="end" fill="#222" >-2</text>
<line x1="362.6" x2="364.1" y1="507.3" y2="507.3" stroke="#444" stroke-width="0.5"/>
<text x="361.5" y="509.9" font-size="7.3" text-anchor="end" fill="#222" >-3</text>
<line x1="403" x2="403" y1="520.3" y2="521.8" stroke="#444" stroke-width="0.5"/>
<text x="402.3" y="526.4" font-size="7.36" text-anchor="middle" fill="#111" >High expression</text>
<line x1="468.6" x2="468.6" y1="520.3" y2="521.8" stroke="#444" stroke-width="0.5"/>
<text x="468.7" y="526.4" font-size="7.36" text-anchor="middle" fill="#111" >Low expression</text>
<text x="351.6" y="406.45" font-size="7.3" text-anchor="middle" fill="#000" transform="rotate(-90 351.6 406.45)" >Drug's IC50</text>
<text x="341.6" y="271.4" font-size="10.8" text-anchor="start" fill="#000" font-weight="bold" >G</text>
<rect x="537.4" y="299.3" width="143.6" height="218.9" fill="#fff"/>
<line x1="537.4" x2="681" y1="374.25" y2="374.25" stroke="#f2f2f2" stroke-width="0.35"/>
<line x1="537.4" x2="681" y1="436.7" y2="436.7" stroke="#f2f2f2" stroke-width="0.35"/>
<line x1="537.4" x2="681" y1="311.97" y2="311.97" stroke="#f2f2f2" stroke-width="0.35"/>
<line x1="537.4" x2="681" y1="499.33" y2="499.33" stroke="#f2f2f2" stroke-width="0.35"/>
<line x1="537.4" x2="681" y1="343.2" y2="343.2" stroke="#e6e6e6" stroke-width="0.55"/>
<line x1="537.4" x2="681" y1="405.3" y2="405.3" stroke="#e6e6e6" stroke-width="0.55"/>
<line x1="537.4" x2="681" y1="468.1" y2="468.1" stroke="#e6e6e6" stroke-width="0.55"/>
<line x1="576.5" x2="576.5" y1="299.3" y2="518.2" stroke="#e6e6e6" stroke-width="0.55"/>
<line x1="641.8" x2="641.8" y1="299.3" y2="518.2" stroke="#e6e6e6" stroke-width="0.55"/>
<circle cx="567.27" cy="343.66" r="1.7" fill="#7cc6f4"/>
<circle cx="590.14" cy="360.99" r="1.7" fill="#7cc6f4"/>
<circle cx="574.56" cy="371.3" r="1.7" fill="#7cc6f4"/>
<circle cx="585.11" cy="390.14" r="1.7" fill="#7cc6f4"/>
<circle cx="562.75" cy="391.9" r="1.7" fill="#7cc6f4"/>
<circle cx="647.92" cy="319.29" r="1.7" fill="#7cc6f4"/>
<circle cx="622.3" cy="325.57" r="1.7" fill="#7cc6f4"/>
<circle cx="650.69" cy="342.9" r="1.7" fill="#7cc6f4"/>
<circle cx="635.61" cy="372.8" r="1.7" fill="#7cc6f4"/>
<circle cx="591.85" cy="406.31" r="1.7" fill="#7cc6f4"/>
<circle cx="567.99" cy="409.83" r="1.7" fill="#7cc6f4"/>
<circle cx="579.04" cy="418.11" r="1.7" fill="#7cc6f4"/>
<circle cx="563.22" cy="444.23" r="1.7" fill="#7cc6f4"/>
<circle cx="589.59" cy="450.26" r="1.7" fill="#7cc6f4"/>
<circle cx="570.5" cy="468.59" r="1.7" fill="#7cc6f4"/>
<circle cx="583.31" cy="474.61" r="1.7" fill="#7cc6f4"/>
<circle cx="557.44" cy="480.89" r="1.7" fill="#7cc6f4"/>
<circle cx="589.08" cy="483.4" r="1.7" fill="#7cc6f4"/>
<circle cx="568.49" cy="504.49" r="1.7" fill="#7cc6f4"/>
<circle cx="576.53" cy="509.26" r="1.7" fill="#7cc6f4"/>
<circle cx="642.07" cy="412.84" r="1.7" fill="#7cc6f4"/>
<rect x="557.2" y="391.4" width="39.4" height="85" fill="#f5b698" fill-opacity="0.6" stroke="#333" stroke-width="0.45"/>
<line x1="557.2" x2="596.6" y1="431.5" y2="431.5" stroke="#111" stroke-width="1.05"/>
<line x1="576.5" x2="576.5" y1="343.5" y2="509.5" stroke="#0a0a0a" stroke-width="1.1"/>
<line x1="566.7" x2="586.3" y1="343.5" y2="343.5" stroke="#0a0a0a" stroke-width="1.1"/>
<line x1="566.7" x2="586.3" y1="509.5" y2="509.5" stroke="#0a0a0a" stroke-width="1.1"/>
<rect x="622.5" y="325.6" width="39.2" height="47" fill="#a5d0e4" fill-opacity="0.6" stroke="#333" stroke-width="0.45"/>
<line x1="622.5" x2="661.7" y1="342.5" y2="342.5" stroke="#111" stroke-width="1.05"/>
<line x1="641.5" x2="641.5" y1="319.5" y2="412.5" stroke="#0a0a0a" stroke-width="1.1"/>
<line x1="632.3" x2="651.6" y1="319.5" y2="319.5" stroke="#0a0a0a" stroke-width="1.1"/>
<line x1="632.3" x2="651.6" y1="412.5" y2="412.5" stroke="#0a0a0a" stroke-width="1.1"/>
<path d="M576.5 315.2V309.7H641.8V315.2" fill="none" stroke="#555" stroke-width="0.5" stroke-linejoin="round"/>
<text x="609.15" y="307.7" font-size="5.6" text-anchor="middle" fill="#111" >0.011</text>
<rect x="537.4" y="299.3" width="143.6" height="218.9" fill="none" stroke="#808080" stroke-width="0.65"/>
<rect x="537.4" y="291.5" width="143.6" height="7.8" fill="#d9d9d9" stroke="#666" stroke-width="0.65"/>
<text x="611.6" y="298.05" font-size="7.4" text-anchor="middle" fill="#1a1a1a" >FTI-277</text>
<text x="608.7" y="285.2" font-size="7.36" text-anchor="middle" fill="#000" >IC50 in High/Low PTBP2 Expression (LIHC)</text>
<line x1="535.9" x2="537.4" y1="343.2" y2="343.2" stroke="#444" stroke-width="0.5"/>
<text x="534.8" y="345.8" font-size="7.3" text-anchor="end" fill="#222" >4.0</text>
<line x1="535.9" x2="537.4" y1="405.3" y2="405.3" stroke="#444" stroke-width="0.5"/>
<text x="534.8" y="407.9" font-size="7.3" text-anchor="end" fill="#222" >3.6</text>
<line x1="535.9" x2="537.4" y1="468.1" y2="468.1" stroke="#444" stroke-width="0.5"/>
<text x="534.8" y="470.7" font-size="7.3" text-anchor="end" fill="#222" >3.2</text>
<line x1="576.5" x2="576.5" y1="518.2" y2="519.7" stroke="#444" stroke-width="0.5"/>
<text x="576.3" y="526.4" font-size="7.36" text-anchor="middle" fill="#111" >High expression</text>
<line x1="641.8" x2="641.8" y1="518.2" y2="519.7" stroke="#444" stroke-width="0.5"/>
<text x="642.7" y="526.4" font-size="7.36" text-anchor="middle" fill="#111" >Low expression</text>
<text x="523.1" y="404.85" font-size="7.3" text-anchor="middle" fill="#000" transform="rotate(-90 523.1 404.85)" >Drug's IC50</text>
<text x="514.8" y="271.4" font-size="10.8" text-anchor="start" fill="#000" font-weight="bold" >H</text>
<text x="5.85" y="549.9" font-size="10.8" text-anchor="start" fill="#000" font-weight="bold" >I</text>
<text x="53.3" y="585.9" font-size="7.3" text-anchor="start" fill="#000" font-weight="bold" >Drug sensitivity for HCC with</text>
<text x="53.3" y="593.8" font-size="7.3" text-anchor="start" fill="#000" font-weight="bold" >low PTBP2: ABT-263</text>
<text x="61.2" y="623.3" font-size="7.3" text-anchor="start" fill="#000" font-weight="bold" >PubChem CID: 24978538</text>
<text x="33.6" y="662.3" font-size="7.3" text-anchor="start" fill="#000" font-weight="bold" >Molecular Formula: C47H55ClF3N5O6S3</text>
<text x="359.2" y="549.9" font-size="10.8" text-anchor="start" fill="#000" font-weight="bold" >J</text>
<text x="383.4" y="581.8" font-size="7.3" text-anchor="start" fill="#000" font-weight="bold" >Drug sensitivity for HCC with</text>
<text x="383.4" y="589.1" font-size="7.3" text-anchor="start" fill="#000" font-weight="bold" >high PTBP2: VX-680</text>
<text x="393.3" y="618.5" font-size="7.3" text-anchor="start" fill="#000" font-weight="bold" >PubChem CID: 5494449</text>
<text x="375.7" y="658.2" font-size="7.3" text-anchor="start" fill="#000" font-weight="bold" >Molecular Formula: C23H28N8OS</text>
<text x="242.2" y="560.6" font-size="7.3" text-anchor="middle" fill="#000" font-weight="bold" >2D Structure</text>
<text x="575.8" y="557.7" font-size="7.3" text-anchor="middle" fill="#000" font-weight="bold" >2D Structure</text>
<line x1="184.3" y1="583.2" x2="190.2" y2="579.7" stroke="#3a3a3a" stroke-width="0.6"/>
<line x1="185.74" y1="583.86" x2="190.09" y2="581.28" stroke="#3a3a3a" stroke-width="0.6"/>
<line x1="190.2" y1="579.7" x2="196.2" y2="583.2" stroke="#3a3a3a" stroke-width="0.6"/>
<line x1="196.2" y1="583.2" x2="196.2" y2="590.1" stroke="#3a3a3a" stroke-width="0.6"/>
<line x1="194.9" y1="584.1" x2="194.9" y2="589.2" stroke="#3a3a3a" stroke-width="0.6"/>
<line x1="196.2" y1="590.1" x2="190.2" y2="593.6" stroke="#3a3a3a" stroke-width="0.6"/>
<line x1="190.2" y1="593.6" x2="184.3" y2="590.1" stroke="#3a3a3a" stroke-width="0.6"/>
<line x1="190.09" y1="592.02" x2="185.74" y2="589.44" stroke="#3a3a3a" stroke-width="0.6"/>
<line x1="184.3" y1="590.1" x2="184.3" y2="583.2" stroke="#3a3a3a" stroke-width="0.6"/>
<line x1="196.2" y1="590.1" x2="200.31" y2="591.93" stroke="#3a3a3a" stroke-width="0.6"/>
<text x="202.5" y="594.59" font-size="4.7" text-anchor="middle" fill="#d6c21a" font-weight="bold" >S</text>
<line x1="204.59" y1="591.72" x2="207.8" y2="589.9" stroke="#3a3a3a" stroke-width="0.6"/>
<line x1="207.8" y1="589.9" x2="214.4" y2="592.4" stroke="#3a3a3a" stroke-width="0.6"/>
<line x1="214.4" y1="592.4" x2="217.49" y2="590.74" stroke="#2030a0" stroke-width="0.9"/>
<text x="219.6" y="591.29" font-size="4.7" text-anchor="middle" fill="#3050e0" font-weight="bold" >N</text>
<text x="219.6" y="586.69" font-size="4.7" text-anchor="middle" fill="#508080" font-weight="bold" >H</text>
<line x1="214.4" y1="592.4" x2="214.4" y2="599.9" stroke="#3a3a3a" stroke-width="0.6"/>
<line x1="214.4" y1="599.9" x2="207.8" y2="603.7" stroke="#3a3a3a" stroke-width="0.6"/>
<line x1="207.8" y1="603.7" x2="207.8" y2="607.4" stroke="#3a3a3a" stroke-width="0.6"/>
<text x="207.8" y="611.49" font-size="4.7" text-anchor="middle" fill="#3050e0" font-weight="bold" >N</text>
<line x1="209.91" y1="610.95" x2="214.4" y2="613.4" stroke="#3a3a3a" stroke-width="0.6"/>
<line x1="214.4" y1="613.4" x2="214.4" y2="619.6" stroke="#3a3a3a" stroke-width="0.6"/>
<line x1="214.4" y1="619.6" x2="209.91" y2="622.05" stroke="#3a3a3a" stroke-width="0.6"/>
<line x1="205.75" y1="621.95" x2="201.9" y2="619.6" stroke="#3a3a3a" stroke-width="0.6"/>
<line x1="201.9" y1="619.6" x2="201.9" y2="613.4" stroke="#3a3a3a" stroke-width="0.6"/>
<line x1="201.9" y1="613.4" x2="205.75" y2="611.05" stroke="#3a3a3a" stroke-width="0.6"/>
<text x="207.8" y="624.89" font-size="4.7" text-anchor="middle" fill="#e8202a" font-weight="bold" >O</text>
<line x1="225.1" y1="592.9" x2="231.4" y2="589.5" stroke="#3a3a3a" stroke-width="0.6"/>
<line x1="231.4" y1="589.5" x2="237.3" y2="592.9" stroke="#3a3a3a" stroke-width="0.6"/>
<line x1="231.53" y1="591.08" x2="235.87" y2="593.58" stroke="#3a3a3a" stroke-width="0.6"/>
<line x1="237.3" y1="592.9" x2="237.3" y2="599.9" stroke="#3a3a3a" stroke-width="0.6"/>
<line x1="237.3" y1="599.9" x2="231.4" y2="603.3" stroke="#3a3a3a" stroke-width="0.6"/>
<line x1="235.87" y1="599.22" x2="231.53" y2="601.72" stroke="#3a3a3a" stroke-width="0.6"/>
<line x1="231.4" y1="603.3" x2="225.1" y2="599.9" stroke="#3a3a3a" stroke-width="0.6"/>
<line x1="225.1" y1="599.9" x2="225.1" y2="592.9" stroke="#3a3a3a" stroke-width="0.6"/>
<line x1="226.4" y1="599" x2="226.4" y2="593.8" stroke="#3a3a3a" stroke-width="0.6"/>
<line x1="221.66" y1="590.83" x2="225.1" y2="592.9" stroke="#3a3a3a" stroke-width="0.6"/>
<line x1="231.4" y1="589.5" x2="231.4" y2="585" stroke="#3a3a3a" stroke-width="0.6"/>
<text x="231.4" y="584.29" font-size="4.7" text-anchor="middle" fill="#d6c21a" font-weight="bold" >S</text>
<text x="224.7" y="584.29" font-size="4.7" text-anchor="middle" fill="#e8202a" font-weight="bold" >O</text>
<text x="238.5" y="584.29" font-size="4.7" text-anchor="middle" fill="#e8202a" font-weight="bold" >O</text>
<line x1="229" y1="582.6" x2="228.3" y2="582.6" stroke="#3a3a3a" stroke-width="0.6"/>
<line x1="233.8" y1="582.6" x2="234.9" y2="582.6" stroke="#3a3a3a" stroke-width="0.6"/>
<line x1="231.4" y1="580.2" x2="231.4" y2="576.1" stroke="#3a3a3a" stroke-width="0.6"/>
<line x1="231.4" y1="576.1" x2="231.4" y2="571.4" stroke="#3a3a3a" stroke-width="0.6"/>
<line x1="231.4" y1="576.1" x2="226.9" y2="576.1" stroke="#3a3a3a" stroke-width="0.6"/>
<line x1="231.4" y1="576.1" x2="235.6" y2="576.1" stroke="#3a3a3a" stroke-width="0.6"/>
<text x="231.4" y="570.49" font-size="4.7" text-anchor="middle" fill="#d040c8" font-weight="bold" >F</text>
<text x="224.5" y="577.59" font-size="4.7" text-anchor="middle" fill="#d040c8" font-weight="bold" >F</text>
<text x="238.2" y="577.59" font-size="4.7" text-anchor="middle" fill="#d040c8" font-weight="bold" >F</text>
<line x1="237.3" y1="599.9" x2="240.78" y2="601.77" stroke="#3a3a3a" stroke-width="0.6"/>
<text x="242.9" y="604.59" font-size="4.7" text-anchor="middle" fill="#d6c21a" font-weight="bold" >S</text>
<text x="246.2" y="598.59" font-size="4.7" text-anchor="middle" fill="#e8202a" font-weight="bold" >O</text>
<text x="239.6" y="610.49" font-size="4.7" text-anchor="middle" fill="#e8202a" font-weight="bold" >O</text>
<line x1="245" y1="604.06" x2="246.8" y2="605.04" stroke="#3a3a3a" stroke-width="0.6"/>
<text x="248.9" y="607.89" font-size="4.7" text-anchor="middle" fill="#3050e0" font-weight="bold" >N</text>
<text x="252.4" y="605.69" font-size="4.7" text-anchor="middle" fill="#508080" font-weight="bold" >H</text>
<line x1="248.9" y1="608.6" x2="248.9" y2="613.3" stroke="#3a3a3a" stroke-width="0.6"/>
<line x1="248.9" y1="613.3" x2="245.12" y2="615.28" stroke="#3a3a3a" stroke-width="0.6"/>
<line x1="249.5" y1="614.45" x2="245.73" y2="616.43" stroke="#3a3a3a" stroke-width="0.6"/>
<text x="243" y="618.09" font-size="4.7" text-anchor="middle" fill="#e8202a" font-weight="bold" >O</text>
<line x1="254.8" y1="616.3" x2="260.7" y2="612.9" stroke="#3a3a3a" stroke-width="0.6"/>
<line x1="256.23" y1="616.98" x2="260.57" y2="614.48" stroke="#3a3a3a" stroke-width="0.6"/>
<line x1="260.7" y1="612.9" x2="266.7" y2="616.3" stroke="#3a3a3a" stroke-width="0.6"/>
<line x1="266.7" y1="616.3" x2="266.7" y2="623.2" stroke="#3a3a3a" stroke-width="0.6"/>
<line x1="265.4" y1="617.2" x2="265.4" y2="622.3" stroke="#3a3a3a" stroke-width="0.6"/>
<line x1="266.7" y1="623.2" x2="260.7" y2="626.6" stroke="#3a3a3a" stroke-width="0.6"/>
<line x1="260.7" y1="626.6" x2="254.8" y2="623.2" stroke="#3a3a3a" stroke-width="0.6"/>
<line x1="260.57" y1="625.02" x2="256.23" y2="622.52" stroke="#3a3a3a" stroke-width="0.6"/>
<line x1="254.8" y1="623.2" x2="254.8" y2="616.3" stroke="#3a3a3a" stroke-width="0.6"/>
<line x1="248.9" y1="613.3" x2="254.8" y2="616.3" stroke="#3a3a3a" stroke-width="0.6"/>
<line x1="266.7" y1="623.2" x2="270.09" y2="625.05" stroke="#3a3a3a" stroke-width="0.6"/>
<text x="272.2" y="627.89" font-size="4.7" text-anchor="middle" fill="#3050e0" font-weight="bold" >N</text>
<line x1="274.27" y1="624.99" x2="277.7" y2="623" stroke="#3a3a3a" stroke-width="0.6"/>
<line x1="277.7" y1="623" x2="283.7" y2="626.4" stroke="#3a3a3a" stroke-width="0.6"/>
<line x1="283.7" y1="626.4" x2="283.7" y2="630.5" stroke="#3a3a3a" stroke-width="0.6"/>
<line x1="281.63" y1="634.11" x2="277.7" y2="636.4" stroke="#3a3a3a" stroke-width="0.6"/>
<line x1="277.7" y1="636.4" x2="272" y2="632.9" stroke="#3a3a3a" stroke-width="0.6"/>
<line x1="272" y1="632.9" x2="272.13" y2="628.6" stroke="#3a3a3a" stroke-width="0.6"/>
<text x="283.7" y="634.59" font-size="4.7" text-anchor="middle" fill="#3050e0" font-weight="bold" >N</text>
<line x1="285.76" y1="634.12" x2="289.6" y2="636.4" stroke="#3a3a3a" stroke-width="0.6"/>
<line x1="289.6" y1="643.3" x2="295.6" y2="646.7" stroke="#3a3a3a" stroke-width="0.6"/>
<line x1="289.74" y1="644.87" x2="294.18" y2="647.39" stroke="#3a3a3a" stroke-width="0.6"/>
<line x1="295.6" y1="646.7" x2="295.6" y2="653.7" stroke="#3a3a3a" stroke-width="0.6"/>
<line x1="295.6" y1="653.7" x2="289.6" y2="657.1" stroke="#3a3a3a" stroke-width="0.6"/>
<line x1="289.6" y1="657.1" x2="283.3" y2="653.7" stroke="#3a3a3a" stroke-width="0.6"/>
<line x1="283.3" y1="653.7" x2="283.3" y2="646.7" stroke="#3a3a3a" stroke-width="0.6"/>
<line x1="283.3" y1="646.7" x2="289.6" y2="643.3" stroke="#3a3a3a" stroke-width="0.6"/>
<line x1="289.6" y1="636.4" x2="289.6" y2="643.3" stroke="#3a3a3a" stroke-width="0.6"/>
<line x1="283.3" y1="653.7" x2="277" y2="653.7" stroke="#3a3a3a" stroke-width="0.6"/>
<line x1="283.3" y1="653.7" x2="280.4" y2="659.6" stroke="#3a3a3a" stroke-width="0.6"/>
<line x1="301.5" y1="643.3" x2="301.5" y2="636.4" stroke="#3a3a3a" stroke-width="0.6"/>
<line x1="302.8" y1="642.4" x2="302.8" y2="637.3" stroke="#3a3a3a" stroke-width="0.6"/>
<line x1="301.5" y1="636.4" x2="307.5" y2="633.3" stroke="#3a3a3a" stroke-width="0.6"/>
<line x1="307.5" y1="633.3" x2="313.4" y2="636.4" stroke="#3a3a3a" stroke-width="0.6"/>
<line x1="307.69" y1="634.87" x2="312" y2="637.13" stroke="#3a3a3a" stroke-width="0.6"/>
<line x1="313.4" y1="636.4" x2="313.4" y2="643.3" stroke="#3a3a3a" stroke-width="0.6"/>
<line x1="313.4" y1="643.3" x2="307.5" y2="646.7" stroke="#3a3a3a" stroke-width="0.6"/>
<line x1="311.97" y1="642.62" x2="307.63" y2="645.12" stroke="#3a3a3a" stroke-width="0.6"/>
<line x1="307.5" y1="646.7" x2="301.5" y2="643.3" stroke="#3a3a3a" stroke-width="0.6"/>
<line x1="295.6" y1="646.7" x2="301.5" y2="643.3" stroke="#3a3a3a" stroke-width="0.6"/>
<line x1="313.4" y1="636.4" x2="315.47" y2="635.33" stroke="#3a3a3a" stroke-width="0.6"/>
<text x="320" y="634.89" font-size="4.7" text-anchor="middle" fill="#28c028" font-weight="bold" >Cl</text>
<line x1="575.4" y1="567.9" x2="575.4" y2="574.9" stroke="#3a3a3a" stroke-width="0.6"/>
<line x1="577.48" y1="578.5" x2="584.2" y2="582.4" stroke="#3a3a3a" stroke-width="0.6"/>
<line x1="584.2" y1="582.4" x2="584.2" y2="592.4" stroke="#3a3a3a" stroke-width="0.6"/>
<line x1="584.2" y1="592.4" x2="577.61" y2="595.17" stroke="#3a3a3a" stroke-width="0.6"/>
<line x1="573.18" y1="595.19" x2="566.4" y2="592.4" stroke="#3a3a3a" stroke-width="0.6"/>
<line x1="566.4" y1="592.4" x2="566.4" y2="582.4" stroke="#3a3a3a" stroke-width="0.6"/>
<line x1="566.4" y1="582.4" x2="573.31" y2="578.48" stroke="#3a3a3a" stroke-width="0.6"/>
<text x="575.4" y="578.99" font-size="4.7" text-anchor="middle" fill="#3050e0" font-weight="bold" >N</text>
<text x="575.4" y="597.79" font-size="4.7" text-anchor="middle" fill="#3050e0" font-weight="bold" >N</text>
<line x1="575.4" y1="606.3" x2="581.47" y2="610.12" stroke="#3a3a3a" stroke-width="0.6"/>
<line x1="575.47" y1="607.88" x2="580.01" y2="610.74" stroke="#3a3a3a" stroke-width="0.6"/>
<line x1="583.5" y1="613.8" x2="583.5" y2="621.6" stroke="#3a3a3a" stroke-width="0.6"/>
<line x1="583.5" y1="621.6" x2="577.48" y2="625.1" stroke="#3a3a3a" stroke-width="0.6"/>
<line x1="582.07" y1="620.93" x2="577.6" y2="623.52" stroke="#3a3a3a" stroke-width="0.6"/>
<line x1="573.27" y1="625.19" x2="566.4" y2="621.6" stroke="#3a3a3a" stroke-width="0.6"/>
<line x1="566.4" y1="621.6" x2="566.4" y2="611.4" stroke="#3a3a3a" stroke-width="0.6"/>
<line x1="567.7" y1="620.7" x2="567.7" y2="612.3" stroke="#3a3a3a" stroke-width="0.6"/>
<line x1="566.4" y1="611.4" x2="575.4" y2="606.3" stroke="#3a3a3a" stroke-width="0.6"/>
<text x="583.7" y="613.09" font-size="4.7" text-anchor="middle" fill="#3050e0" font-weight="bold" >N</text>
<text x="575.4" y="628.19" font-size="4.7" text-anchor="middle" fill="#3050e0" font-weight="bold" >N</text>
<line x1="575.4" y1="598.5" x2="575.4" y2="606.3" stroke="#3a3a3a" stroke-width="0.6"/>
<line x1="566.4" y1="621.6" x2="559.72" y2="625.17" stroke="#3a3a3a" stroke-width="0.6"/>
<text x="557.6" y="627.99" font-size="4.7" text-anchor="middle" fill="#3050e0" font-weight="bold" >N</text>
<text x="552.1" y="624.39" font-size="4.7" text-anchor="middle" fill="#508080" font-weight="bold" >H</text>
<line x1="583.5" y1="621.6" x2="589.62" y2="625.11" stroke="#3a3a3a" stroke-width="0.6"/>
<text x="591.7" y="627.99" font-size="4.7" text-anchor="middle" fill="#d6c21a" font-weight="bold" >S</text>
<line x1="557.6" y1="637" x2="565.8" y2="641.5" stroke="#3a3a3a" stroke-width="0.6"/>
<line x1="565.8" y1="641.5" x2="562.7" y2="651.3" stroke="#3a3a3a" stroke-width="0.6"/>
<line x1="564.29" y1="641.97" x2="561.73" y2="650.05" stroke="#3a3a3a" stroke-width="0.6"/>
<line x1="562.7" y1="651.3" x2="555.3" y2="651.3" stroke="#3a3a3a" stroke-width="0.6"/>
<line x1="552.22" y1="649" x2="550.68" y2="643.8" stroke="#3a3a3a" stroke-width="0.6"/>
<line x1="552.07" y1="640.28" x2="557.6" y2="637" stroke="#3a3a3a" stroke-width="0.6"/>
<line x1="553.5" y1="640.94" x2="557.49" y2="638.58" stroke="#3a3a3a" stroke-width="0.6"/>
<text x="552.9" y="652.99" font-size="4.7" text-anchor="middle" fill="#3050e0" font-weight="bold" >N</text>
<text x="550" y="643.19" font-size="4.7" text-anchor="middle" fill="#3050e0" font-weight="bold" >N</text>
<text x="549.4" y="658.29" font-size="4.7" text-anchor="middle" fill="#508080" font-weight="bold" >H</text>
<line x1="557.6" y1="628.7" x2="557.6" y2="637" stroke="#3a3a3a" stroke-width="0.6"/>
<line x1="562.7" y1="651.3" x2="568.8" y2="657.8" stroke="#3a3a3a" stroke-width="0.6"/>
<line x1="600.5" y1="621.6" x2="600.5" y2="611.4" stroke="#3a3a3a" stroke-width="0.6"/>
<line x1="601.8" y1="620.7" x2="601.8" y2="612.3" stroke="#3a3a3a" stroke-width="0.6"/>
<line x1="600.5" y1="611.4" x2="609.3" y2="606.3" stroke="#3a3a3a" stroke-width="0.6"/>
<line x1="609.3" y1="606.3" x2="618.3" y2="611.4" stroke="#3a3a3a" stroke-width="0.6"/>
<line x1="609.44" y1="607.87" x2="616.88" y2="612.09" stroke="#3a3a3a" stroke-width="0.6"/>
<line x1="618.3" y1="611.4" x2="618.3" y2="621.6" stroke="#3a3a3a" stroke-width="0.6"/>
<line x1="618.3" y1="621.6" x2="609.3" y2="626.3" stroke="#3a3a3a" stroke-width="0.6"/>
<line x1="616.9" y1="620.86" x2="609.5" y2="624.73" stroke="#3a3a3a" stroke-width="0.6"/>
<line x1="609.3" y1="626.3" x2="600.5" y2="621.6" stroke="#3a3a3a" stroke-width="0.6"/>
<line x1="593.82" y1="625.17" x2="600.5" y2="621.6" stroke="#3a3a3a" stroke-width="0.6"/>
<line x1="618.3" y1="611.4" x2="623.09" y2="607.75" stroke="#3a3a3a" stroke-width="0.6"/>
<text x="625" y="607.99" font-size="4.7" text-anchor="middle" fill="#3050e0" font-weight="bold" >N</text>
<text x="625" y="602.29" font-size="4.7" text-anchor="middle" fill="#508080" font-weight="bold" >H</text>
<line x1="627.1" y1="607.46" x2="634.2" y2="611.4" stroke="#3a3a3a" stroke-width="0.6"/>
<line x1="634.2" y1="611.4" x2="634.2" y2="619.2" stroke="#c03030" stroke-width="0.6"/>
<line x1="632.9" y1="611.4" x2="632.9" y2="619.2" stroke="#c03030" stroke-width="0.6"/>
<text x="634.2" y="623.29" font-size="4.7" text-anchor="middle" fill="#e8202a" font-weight="bold" >O</text>
<line x1="634.2" y1="611.4" x2="642.8" y2="606.3" stroke="#3a3a3a" stroke-width="0.6"/>
<line x1="642.8" y1="606.3" x2="647.5" y2="598.5" stroke="#3a3a3a" stroke-width="0.6"/>
<line x1="647.5" y1="598.5" x2="652.2" y2="606.3" stroke="#3a3a3a" stroke-width="0.6"/>
<line x1="652.2" y1="606.3" x2="642.8" y2="606.3" stroke="#3a3a3a" stroke-width="0.6"/>
<text x="3.4" y="679.8" font-size="10.8" text-anchor="start" fill="#000" font-weight="bold" >K</text>
<defs><filter id="bl" x="-30%" y="-80%" width="160%" height="260%"><feGaussianBlur stdDeviation="0.75"/></filter><filter id="bl2" x="-5%" y="-10%" width="110%" height="120%"><feGaussianBlur stdDeviation="0.5"/></filter></defs>
<rect x="28" y="762.9" width="72.8" height="14.2" fill="#bdbdbd" filter="url(#bl2)"/>
<rect x="28" y="779.4" width="72.8" height="15.7" fill="#b9b9b9" filter="url(#bl2)"/>
<rect x="31.6" y="768.4" width="7.8" height="2.4" rx="1.2" fill="#161616" fill-opacity="1" filter="url(#bl)" transform="rotate(0 35.5 769.6)"/>
<rect x="41.5" y="769.15" width="4.5" height="1.3" rx="0.65" fill="#777" fill-opacity="0.45" filter="url(#bl)" transform="rotate(0 43.75 769.8)"/>
<rect x="48.9" y="768.6" width="10.7" height="3" rx="1.5" fill="#161616" fill-opacity="1" filter="url(#bl)" transform="rotate(0 54.25 770.1)"/>
<rect x="68" y="768.4" width="8.9" height="2.8" rx="1.4" fill="#161616" fill-opacity="1" filter="url(#bl)" transform="rotate(0 72.45 769.8)"/>
<rect x="79" y="769.55" width="6.6" height="1.7" rx="0.85" fill="#2a2a2a" fill-opacity="0.85" filter="url(#bl)" transform="rotate(0 82.3 770.4)"/>
<rect x="86.6" y="769.1" width="10.7" height="3" rx="1.5" fill="#161616" fill-opacity="1" filter="url(#bl)" transform="rotate(-2 91.95 770.6)"/>
<rect x="31.2" y="784.4" width="9.2" height="3" rx="1.5" fill="#161616" fill-opacity="1" filter="url(#bl)" transform="rotate(-2 35.8 785.9)"/>
<rect x="42" y="784.4" width="7.9" height="3.6" rx="1.8" fill="#161616" fill-opacity="1" filter="url(#bl)" transform="rotate(0 45.95 786.2)"/>
<rect x="50.7" y="785" width="8.8" height="3" rx="1.5" fill="#161616" fill-opacity="1" filter="url(#bl)" transform="rotate(3 55.1 786.5)"/>
<rect x="60.5" y="786.55" width="4" height="0.9" rx="0.45" fill="#777" fill-opacity="0.4" filter="url(#bl)" transform="rotate(0 62.5 787)"/>
<rect x="68.1" y="785.05" width="8.8" height="3.1" rx="1.55" fill="#161616" fill-opacity="1" filter="url(#bl)" transform="rotate(3 72.5 786.6)"/>
<rect x="78.8" y="785.6" width="8.2" height="3.2" rx="1.6" fill="#161616" fill-opacity="1" filter="url(#bl)" transform="rotate(4 82.9 787.2)"/>
<rect x="87.6" y="786.2" width="9.8" height="3.6" rx="1.8" fill="#161616" fill-opacity="1" filter="url(#bl)" transform="rotate(5 92.5 788)"/>
<text x="27.6" y="772.7" font-size="7.5" text-anchor="end" fill="#222" >55-</text>
<text x="27.6" y="790.2" font-size="7.5" text-anchor="end" fill="#222" >36-</text>
<text x="103" y="773.4" font-size="7.3" text-anchor="start" fill="#222" >α-PTBP2</text>
<text x="103" y="791" font-size="7.3" text-anchor="start" fill="#222" >α-GAPDH</text>
<line x1="30.6" x2="58.3" y1="797.3" y2="797.3" stroke="#222" stroke-width="0.7"/>
<line x1="68.9" x2="96.6" y1="797.3" y2="797.3" stroke="#222" stroke-width="0.7"/>
<text x="44.6" y="805.3" font-size="7.3" text-anchor="middle" fill="#222" >HepG2</text>
<text x="83.1" y="805.3" font-size="7.3" text-anchor="middle" fill="#222" >Huh7</text>
<text x="36.6" y="761.8" font-size="7.3" text-anchor="start" fill="#222" transform="rotate(-60 36.6 761.8)" >sh-NC+EV</text>
<text x="46.1" y="761.8" font-size="7.3" text-anchor="start" fill="#222" transform="rotate(-60 46.1 761.8)" >sh-PTBP2+EV</text>
<text x="56.9" y="761.8" font-size="7.3" text-anchor="start" fill="#222" transform="rotate(-60 56.9 761.8)" >sh-NC+Flag-PTBP2</text>
<text x="74" y="761.8" font-size="7.3" text-anchor="start" fill="#222" transform="rotate(-60 74 761.8)" >sh-NC+EV</text>
<text x="82.5" y="761.8" font-size="7.3" text-anchor="start" fill="#222" transform="rotate(-60 82.5 761.8)" >sh-PTBP2+EV</text>
<text x="93.5" y="761.8" font-size="7.3" text-anchor="start" fill="#222" transform="rotate(-60 93.5 761.8)" >sh-NC+Flag-PTBP2</text>
<text x="159" y="680" font-size="10.8" text-anchor="start" fill="#000" font-weight="bold" >L</text>
<text x="157.4" y="770" font-size="10.8" text-anchor="start" fill="#000" font-weight="bold" >M</text>
<path d="M198.5 681.7V749.6H300.7" fill="none" stroke="#000" stroke-width="0.75"/>
<line x1="196.1" x2="198.5" y1="749.6" y2="749.6" stroke="#000" stroke-width="0.75"/>
<text x="195.5" y="752.4" font-size="7.6" text-anchor="end" fill="#000" >0</text>
<line x1="196.1" x2="198.5" y1="721.15" y2="721.15" stroke="#000" stroke-width="0.75"/>
<text x="195.5" y="723.95" font-size="7.6" text-anchor="end" fill="#000" >50</text>
<line x1="196.1" x2="198.5" y1="692.7" y2="692.7" stroke="#000" stroke-width="0.75"/>
<text x="195.5" y="695.5" font-size="7.6" text-anchor="end" fill="#000" >100</text>
<line x1="207.7" x2="207.7" y1="749.6" y2="752" stroke="#000" stroke-width="0.75"/>
<text x="207.7" y="759.3" font-size="7.6" text-anchor="middle" fill="#000" >0.1</text>
<line x1="238.5" x2="238.5" y1="749.6" y2="752" stroke="#000" stroke-width="0.75"/>
<text x="238.5" y="759.3" font-size="7.6" text-anchor="middle" fill="#000" >1</text>
<line x1="269.3" x2="269.3" y1="749.6" y2="752" stroke="#000" stroke-width="0.75"/>
<text x="269.3" y="759.3" font-size="7.6" text-anchor="middle" fill="#000" >10</text>
<line x1="300.1" x2="300.1" y1="749.6" y2="752" stroke="#000" stroke-width="0.75"/>
<text x="300.1" y="759.3" font-size="7.6" text-anchor="middle" fill="#000" >100</text>
<line x1="198.5" x2="299.1" y1="721.15" y2="721.15" stroke="#000" stroke-width="0.55" stroke-dasharray="0.7 1.4"/>
<path d="M207.7 693.29 L209.24 693.35 L210.78 693.42 L212.32 693.49 L213.86 693.58 L215.4 693.67 L216.94 693.77 L218.48 693.88 L220.02 694.01 L221.56 694.14 L223.1 694.29 L224.64 694.46 L226.18 694.64 L227.72 694.83 L229.26 695.05 L230.8 695.29 L232.34 695.55 L233.88 695.84 L235.42 696.16 L236.96 696.5 L238.5 696.88 L240.04 697.29 L241.58 697.73 L243.12 698.22 L244.66 698.74 L246.2 699.31 L247.74 699.93 L249.28 700.59 L250.82 701.3 L252.36 702.07 L253.9 702.89 L255.44 703.77 L256.98 704.7 L258.52 705.68 L260.06 706.73 L261.6 707.82 L263.14 708.98 L264.68 710.18 L266.22 711.43 L267.76 712.72 L269.3 714.06 L270.84 715.42 L272.38 716.82 L273.92 718.24 L275.46 719.67 L277 721.11 L278.54 722.55 L280.08 723.98 L281.62 725.4 L283.16 726.8 L284.7 728.17 L286.24 729.5 L287.78 730.8 L289.32 732.05 L290.86 733.26 L292.4 734.41 L293.94 735.51 L295.48 736.56 L297.02 737.55 L298.56 738.48 L300.1 739.36" fill="none" stroke="#111" stroke-width="0.6"/>
<line x1="207.7" x2="207.7" y1="695.43" y2="696.8" stroke="#111" stroke-width="0.45"/>
<line x1="206.8" x2="208.6" y1="695.43" y2="695.43" stroke="#111" stroke-width="0.45"/>
<line x1="206.8" x2="208.6" y1="696.8" y2="696.8" stroke="#111" stroke-width="0.45"/>
<rect x="207.15" y="695.56" width="1.1" height="1.1" fill="#000"/>
<line x1="238.5" x2="238.5" y1="697.54" y2="701.52" stroke="#111" stroke-width="0.45"/>
<line x1="237.6" x2="239.4" y1="697.54" y2="697.54" stroke="#111" stroke-width="0.45"/>
<line x1="237.6" x2="239.4" y1="701.52" y2="701.52" stroke="#111" stroke-width="0.45"/>
<rect x="237.95" y="698.98" width="1.1" height="1.1" fill="#000"/>
<line x1="269.3" x2="269.3" y1="709.49" y2="713.47" stroke="#111" stroke-width="0.45"/>
<line x1="268.4" x2="270.2" y1="709.49" y2="709.49" stroke="#111" stroke-width="0.45"/>
<line x1="268.4" x2="270.2" y1="713.47" y2="713.47" stroke="#111" stroke-width="0.45"/>
<rect x="268.75" y="710.93" width="1.1" height="1.1" fill="#000"/>
<line x1="284" x2="284" y1="727.98" y2="730.25" stroke="#111" stroke-width="0.45"/>
<line x1="283.1" x2="284.9" y1="727.98" y2="727.98" stroke="#111" stroke-width="0.45"/>
<line x1="283.1" x2="284.9" y1="730.25" y2="730.25" stroke="#111" stroke-width="0.45"/>
<rect x="283.45" y="728.57" width="1.1" height="1.1" fill="#000"/>
<line x1="300.1" x2="300.1" y1="737.08" y2="741.63" stroke="#111" stroke-width="0.45"/>
<line x1="299.2" x2="301" y1="737.08" y2="737.08" stroke="#111" stroke-width="0.45"/>
<line x1="299.2" x2="301" y1="741.63" y2="741.63" stroke="#111" stroke-width="0.45"/>
<rect x="299.55" y="738.81" width="1.1" height="1.1" fill="#000"/>
<text x="247.9" y="681.8" font-size="7.3" text-anchor="middle" fill="#111" >HepG2 treated with VX-680</text>
<text x="247.9" y="687.9" font-size="7.3" text-anchor="middle" fill="#111" >(sh-NC+EV)</text>
<text x="200.8" y="717.8" font-size="7.3" text-anchor="start" fill="#111" >IC50=17.84 μM</text>
<text x="252.1" y="763.9" font-size="7.3" text-anchor="middle" fill="#111" >Concentration (μM)</text>
<text x="182.3" y="719.4" font-size="7.3" text-anchor="middle" fill="#111" transform="rotate(-90 182.3 719.4)" >Cell Viability</text>
<path d="M340.5 679.7V748.5H443.2" fill="none" stroke="#000" stroke-width="0.75"/>
<line x1="338.1" x2="340.5" y1="748.5" y2="748.5" stroke="#000" stroke-width="0.75"/>
<text x="337.5" y="751.3" font-size="7.6" text-anchor="end" fill="#000" >0</text>
<line x1="338.1" x2="340.5" y1="720.05" y2="720.05" stroke="#000" stroke-width="0.75"/>
<text x="337.5" y="722.85" font-size="7.6" text-anchor="end" fill="#000" >50</text>
<line x1="338.1" x2="340.5" y1="691.6" y2="691.6" stroke="#000" stroke-width="0.75"/>
<text x="337.5" y="694.4" font-size="7.6" text-anchor="end" fill="#000" >100</text>
<line x1="350.2" x2="350.2" y1="748.5" y2="750.9" stroke="#000" stroke-width="0.75"/>
<text x="350.2" y="758.2" font-size="7.6" text-anchor="middle" fill="#000" >0.1</text>
<line x1="381" x2="381" y1="748.5" y2="750.9" stroke="#000" stroke-width="0.75"/>
<text x="381" y="758.2" font-size="7.6" text-anchor="middle" fill="#000" >1</text>
<line x1="411.8" x2="411.8" y1="748.5" y2="750.9" stroke="#000" stroke-width="0.75"/>
<text x="411.8" y="758.2" font-size="7.6" text-anchor="middle" fill="#000" >10</text>
<line x1="442.6" x2="442.6" y1="748.5" y2="750.9" stroke="#000" stroke-width="0.75"/>
<text x="442.6" y="758.2" font-size="7.6" text-anchor="middle" fill="#000" >100</text>
<line x1="340.5" x2="441.6" y1="720.05" y2="720.05" stroke="#000" stroke-width="0.55" stroke-dasharray="0.7 1.4"/>
<path d="M350.2 691.44 L351.74 691.44 L353.28 691.44 L354.82 691.45 L356.36 691.45 L357.9 691.45 L359.44 691.45 L360.98 691.46 L362.52 691.46 L364.06 691.47 L365.6 691.47 L367.14 691.48 L368.68 691.49 L370.22 691.5 L371.76 691.51 L373.3 691.52 L374.84 691.54 L376.38 691.56 L377.92 691.58 L379.46 691.6 L381 691.63 L382.54 691.66 L384.08 691.7 L385.62 691.74 L387.16 691.79 L388.7 691.85 L390.24 691.92 L391.78 692 L393.32 692.09 L394.86 692.19 L396.4 692.31 L397.94 692.46 L399.48 692.62 L401.02 692.8 L402.56 693.02 L404.1 693.27 L405.64 693.55 L407.18 693.88 L408.72 694.26 L410.26 694.69 L411.8 695.18 L413.34 695.74 L414.88 696.38 L416.42 697.1 L417.96 697.91 L419.5 698.82 L421.04 699.84 L422.58 700.97 L424.12 702.22 L425.66 703.59 L427.2 705.08 L428.74 706.7 L430.28 708.43 L431.82 710.27 L433.36 712.2 L434.9 714.22 L436.44 716.29 L437.98 718.41 L439.52 720.54 L441.06 722.67 L442.6 724.77" fill="none" stroke="#111" stroke-width="0.6"/>
<line x1="350.2" x2="350.2" y1="687.9" y2="690.75" stroke="#111" stroke-width="0.45"/>
<line x1="349.3" x2="351.1" y1="687.9" y2="687.9" stroke="#111" stroke-width="0.45"/>
<line x1="349.3" x2="351.1" y1="690.75" y2="690.75" stroke="#111" stroke-width="0.45"/>
<rect x="349.65" y="688.77" width="1.1" height="1.1" fill="#000"/>
<line x1="381" x2="381" y1="686.48" y2="691.03" stroke="#111" stroke-width="0.45"/>
<line x1="380.1" x2="381.9" y1="686.48" y2="686.48" stroke="#111" stroke-width="0.45"/>
<line x1="380.1" x2="381.9" y1="691.03" y2="691.03" stroke="#111" stroke-width="0.45"/>
<rect x="380.45" y="688.21" width="1.1" height="1.1" fill="#000"/>
<line x1="411.8" x2="411.8" y1="689.49" y2="692.57" stroke="#111" stroke-width="0.45"/>
<line x1="410.9" x2="412.7" y1="689.49" y2="689.49" stroke="#111" stroke-width="0.45"/>
<line x1="410.9" x2="412.7" y1="692.57" y2="692.57" stroke="#111" stroke-width="0.45"/>
<rect x="411.25" y="690.48" width="1.1" height="1.1" fill="#000"/>
<line x1="426.5" x2="426.5" y1="706.68" y2="711.91" stroke="#111" stroke-width="0.45"/>
<line x1="425.6" x2="427.4" y1="706.68" y2="706.68" stroke="#111" stroke-width="0.45"/>
<line x1="425.6" x2="427.4" y1="711.91" y2="711.91" stroke="#111" stroke-width="0.45"/>
<rect x="425.95" y="708.75" width="1.1" height="1.1" fill="#000"/>
<line x1="442.6" x2="442.6" y1="721.87" y2="726.65" stroke="#111" stroke-width="0.45"/>
<line x1="441.7" x2="443.5" y1="721.87" y2="721.87" stroke="#111" stroke-width="0.45"/>
<line x1="441.7" x2="443.5" y1="726.65" y2="726.65" stroke="#111" stroke-width="0.45"/>
<rect x="442.05" y="723.71" width="1.1" height="1.1" fill="#000"/>
<text x="396" y="678.7" font-size="7.3" text-anchor="middle" fill="#111" >HepG2 treated with VX-680</text>
<text x="396" y="684.5" font-size="7.3" text-anchor="middle" fill="#111" >(sh-PTBP2+EV)</text>
<text x="342.7" y="717" font-size="7.3" text-anchor="start" fill="#111" >IC50=70.89 μM</text>
<text x="394.6" y="763.4" font-size="7.3" text-anchor="middle" fill="#111" >Concentration (μM)</text>
<text x="324" y="717.2" font-size="7.3" text-anchor="middle" fill="#111" transform="rotate(-90 324 717.2)" >Cell Viability</text>
<path d="M482.8 680.3V747.8H585.7" fill="none" stroke="#000" stroke-width="0.75"/>
<line x1="480.4" x2="482.8" y1="747.8" y2="747.8" stroke="#000" stroke-width="0.75"/>
<text x="479.8" y="750.6" font-size="7.6" text-anchor="end" fill="#000" >0</text>
<line x1="480.4" x2="482.8" y1="719.65" y2="719.65" stroke="#000" stroke-width="0.75"/>
<text x="479.8" y="722.45" font-size="7.6" text-anchor="end" fill="#000" >50</text>
<line x1="480.4" x2="482.8" y1="691.5" y2="691.5" stroke="#000" stroke-width="0.75"/>
<text x="479.8" y="694.3" font-size="7.6" text-anchor="end" fill="#000" >100</text>
<line x1="492.7" x2="492.7" y1="747.8" y2="750.2" stroke="#000" stroke-width="0.75"/>
<text x="492.7" y="757.5" font-size="7.6" text-anchor="middle" fill="#000" >0.1</text>
<line x1="523.5" x2="523.5" y1="747.8" y2="750.2" stroke="#000" stroke-width="0.75"/>
<text x="523.5" y="757.5" font-size="7.6" text-anchor="middle" fill="#000" >1</text>
<line x1="554.3" x2="554.3" y1="747.8" y2="750.2" stroke="#000" stroke-width="0.75"/>
<text x="554.3" y="757.5" font-size="7.6" text-anchor="middle" fill="#000" >10</text>
<line x1="585.1" x2="585.1" y1="747.8" y2="750.2" stroke="#000" stroke-width="0.75"/>
<text x="585.1" y="757.5" font-size="7.6" text-anchor="middle" fill="#000" >100</text>
<line x1="482.8" x2="584.1" y1="719.65" y2="719.65" stroke="#000" stroke-width="0.55" stroke-dasharray="0.7 1.4"/>
<path d="M492.7 695.01 L494.24 695.17 L495.78 695.34 L497.32 695.52 L498.86 695.72 L500.4 695.94 L501.94 696.17 L503.48 696.43 L505.02 696.7 L506.56 697 L508.1 697.31 L509.64 697.66 L511.18 698.02 L512.72 698.42 L514.26 698.84 L515.8 699.29 L517.34 699.78 L518.88 700.29 L520.42 700.84 L521.96 701.43 L523.5 702.05 L525.04 702.71 L526.58 703.41 L528.12 704.15 L529.66 704.92 L531.2 705.74 L532.74 706.59 L534.28 707.48 L535.82 708.41 L537.36 709.38 L538.9 710.38 L540.44 711.41 L541.98 712.48 L543.52 713.57 L545.06 714.68 L546.6 715.82 L548.14 716.97 L549.68 718.13 L551.22 719.31 L552.76 720.49 L554.3 721.66 L555.84 722.84 L557.38 724 L558.92 725.16 L560.46 726.29 L562 727.41 L563.54 728.5 L565.08 729.56 L566.62 730.59 L568.16 731.59 L569.7 732.56 L571.24 733.49 L572.78 734.38 L574.32 735.24 L575.86 736.05 L577.4 736.83 L578.94 737.57 L580.48 738.27 L582.02 738.93 L583.56 739.55 L585.1 740.14" fill="none" stroke="#111" stroke-width="0.6"/>
<line x1="492.7" x2="492.7" y1="694.03" y2="695.72" stroke="#111" stroke-width="0.45"/>
<line x1="491.8" x2="493.6" y1="694.03" y2="694.03" stroke="#111" stroke-width="0.45"/>
<line x1="491.8" x2="493.6" y1="695.72" y2="695.72" stroke="#111" stroke-width="0.45"/>
<rect x="492.15" y="694.33" width="1.1" height="1.1" fill="#000"/>
<line x1="523.5" x2="523.5" y1="698.26" y2="702.76" stroke="#111" stroke-width="0.45"/>
<line x1="522.6" x2="524.4" y1="698.26" y2="698.26" stroke="#111" stroke-width="0.45"/>
<line x1="522.6" x2="524.4" y1="702.76" y2="702.76" stroke="#111" stroke-width="0.45"/>
<rect x="522.95" y="699.96" width="1.1" height="1.1" fill="#000"/>
<line x1="554.3" x2="554.3" y1="720.49" y2="724.44" stroke="#111" stroke-width="0.45"/>
<line x1="553.4" x2="555.2" y1="720.49" y2="720.49" stroke="#111" stroke-width="0.45"/>
<line x1="553.4" x2="555.2" y1="724.44" y2="724.44" stroke="#111" stroke-width="0.45"/>
<rect x="553.75" y="721.91" width="1.1" height="1.1" fill="#000"/>
<line x1="569" x2="569" y1="727.25" y2="733.44" stroke="#111" stroke-width="0.45"/>
<line x1="568.1" x2="569.9" y1="727.25" y2="727.25" stroke="#111" stroke-width="0.45"/>
<line x1="568.1" x2="569.9" y1="733.44" y2="733.44" stroke="#111" stroke-width="0.45"/>
<rect x="568.45" y="729.8" width="1.1" height="1.1" fill="#000"/>
<line x1="585.1" x2="585.1" y1="737.1" y2="742.73" stroke="#111" stroke-width="0.45"/>
<line x1="584.2" x2="586" y1="737.1" y2="737.1" stroke="#111" stroke-width="0.45"/>
<line x1="584.2" x2="586" y1="742.73" y2="742.73" stroke="#111" stroke-width="0.45"/>
<rect x="584.55" y="739.37" width="1.1" height="1.1" fill="#000"/>
<text x="539.3" y="678.7" font-size="7.3" text-anchor="middle" fill="#111" >HepG2 treated with VX-680</text>
<text x="539.3" y="685.1" font-size="7.3" text-anchor="middle" fill="#111" >(sh-NC+Flag-PTBP2)</text>
<text x="485.8" y="717" font-size="7.3" text-anchor="start" fill="#111" >IC50=8.92 μM</text>
<text x="537.1" y="763.7" font-size="7.3" text-anchor="middle" fill="#111" >Concentration (μM)</text>
<text x="466.5" y="717.2" font-size="7.3" text-anchor="middle" fill="#111" transform="rotate(-90 466.5 717.2)" >Cell Viability</text>
<path d="M197.8 771.2V838.4H300.7" fill="none" stroke="#000" stroke-width="0.75"/>
<line x1="195.4" x2="197.8" y1="838.4" y2="838.4" stroke="#000" stroke-width="0.75"/>
<text x="194.8" y="841.2" font-size="7.6" text-anchor="end" fill="#000" >0</text>
<line x1="195.4" x2="197.8" y1="810.25" y2="810.25" stroke="#000" stroke-width="0.75"/>
<text x="194.8" y="813.05" font-size="7.6" text-anchor="end" fill="#000" >50</text>
<line x1="195.4" x2="197.8" y1="782.1" y2="782.1" stroke="#000" stroke-width="0.75"/>
<text x="194.8" y="784.9" font-size="7.6" text-anchor="end" fill="#000" >100</text>
<line x1="207.7" x2="207.7" y1="838.4" y2="840.8" stroke="#000" stroke-width="0.75"/>
<text x="207.7" y="848.1" font-size="7.6" text-anchor="middle" fill="#000" >0.1</text>
<line x1="238.5" x2="238.5" y1="838.4" y2="840.8" stroke="#000" stroke-width="0.75"/>
<text x="238.5" y="848.1" font-size="7.6" text-anchor="middle" fill="#000" >1</text>
<line x1="269.3" x2="269.3" y1="838.4" y2="840.8" stroke="#000" stroke-width="0.75"/>
<text x="269.3" y="848.1" font-size="7.6" text-anchor="middle" fill="#000" >10</text>
<line x1="300.1" x2="300.1" y1="838.4" y2="840.8" stroke="#000" stroke-width="0.75"/>
<text x="300.1" y="848.1" font-size="7.6" text-anchor="middle" fill="#000" >100</text>
<line x1="197.8" x2="299.1" y1="810.25" y2="810.25" stroke="#000" stroke-width="0.55" stroke-dasharray="0.7 1.4"/>
<path d="M207.7 782.42 L209.24 782.46 L210.78 782.5 L212.32 782.54 L213.86 782.59 L215.4 782.65 L216.94 782.71 L218.48 782.78 L220.02 782.86 L221.56 782.94 L223.1 783.03 L224.64 783.14 L226.18 783.26 L227.72 783.39 L229.26 783.53 L230.8 783.69 L232.34 783.86 L233.88 784.06 L235.42 784.27 L236.96 784.51 L238.5 784.77 L240.04 785.06 L241.58 785.38 L243.12 785.73 L244.66 786.12 L246.2 786.54 L247.74 787 L249.28 787.51 L250.82 788.06 L252.36 788.66 L253.9 789.32 L255.44 790.03 L256.98 790.79 L258.52 791.62 L260.06 792.51 L261.6 793.46 L263.14 794.47 L264.68 795.54 L266.22 796.68 L267.76 797.88 L269.3 799.14 L270.84 800.45 L272.38 801.82 L273.92 803.22 L275.46 804.67 L277 806.15 L278.54 807.65 L280.08 809.17 L281.62 810.69 L283.16 812.21 L284.7 813.72 L286.24 815.21 L287.78 816.67 L289.32 818.09 L290.86 819.47 L292.4 820.81 L293.94 822.09 L295.48 823.32 L297.02 824.48 L298.56 825.58 L300.1 826.62" fill="none" stroke="#111" stroke-width="0.6"/>
<line x1="207.7" x2="207.7" y1="780.13" y2="786.32" stroke="#111" stroke-width="0.45"/>
<line x1="206.8" x2="208.6" y1="780.13" y2="780.13" stroke="#111" stroke-width="0.45"/>
<line x1="206.8" x2="208.6" y1="786.32" y2="786.32" stroke="#111" stroke-width="0.45"/>
<rect x="207.15" y="782.68" width="1.1" height="1.1" fill="#000"/>
<line x1="238.5" x2="238.5" y1="782.94" y2="784.63" stroke="#111" stroke-width="0.45"/>
<line x1="237.6" x2="239.4" y1="782.94" y2="782.94" stroke="#111" stroke-width="0.45"/>
<line x1="237.6" x2="239.4" y1="784.63" y2="784.63" stroke="#111" stroke-width="0.45"/>
<rect x="237.95" y="783.24" width="1.1" height="1.1" fill="#000"/>
<line x1="269.3" x2="269.3" y1="792.8" y2="802.93" stroke="#111" stroke-width="0.45"/>
<line x1="268.4" x2="270.2" y1="792.8" y2="792.8" stroke="#111" stroke-width="0.45"/>
<line x1="268.4" x2="270.2" y1="802.93" y2="802.93" stroke="#111" stroke-width="0.45"/>
<rect x="268.75" y="797.31" width="1.1" height="1.1" fill="#000"/>
<line x1="284" x2="284" y1="810.81" y2="819.82" stroke="#111" stroke-width="0.45"/>
<line x1="283.1" x2="284.9" y1="810.81" y2="810.81" stroke="#111" stroke-width="0.45"/>
<line x1="283.1" x2="284.9" y1="819.82" y2="819.82" stroke="#111" stroke-width="0.45"/>
<rect x="283.45" y="814.77" width="1.1" height="1.1" fill="#000"/>
<line x1="300.1" x2="300.1" y1="824.33" y2="827.7" stroke="#111" stroke-width="0.45"/>
<line x1="299.2" x2="301" y1="824.33" y2="824.33" stroke="#111" stroke-width="0.45"/>
<line x1="299.2" x2="301" y1="827.7" y2="827.7" stroke="#111" stroke-width="0.45"/>
<rect x="299.55" y="825.46" width="1.1" height="1.1" fill="#000"/>
<text x="250.4" y="774.4" font-size="7.3" text-anchor="middle" fill="#111" >Huh7 treated with VX-680</text>
<text x="251.3" y="781" font-size="7.3" text-anchor="middle" fill="#111" >(sh-NC+EV)</text>
<text x="200.8" y="808" font-size="7.3" text-anchor="start" fill="#111" >IC50=24.30 μM</text>
<text x="252.1" y="854.1" font-size="7.3" text-anchor="middle" fill="#111" >Concentration (μM)</text>
<text x="182.3" y="808.5" font-size="7.3" text-anchor="middle" fill="#111" transform="rotate(-90 182.3 808.5)" >Cell Viability</text>
<path d="M341.1 770.4V837.6H443.2" fill="none" stroke="#000" stroke-width="0.75"/>
<line x1="338.7" x2="341.1" y1="837.6" y2="837.6" stroke="#000" stroke-width="0.75"/>
<text x="338.1" y="840.4" font-size="7.6" text-anchor="end" fill="#000" >0</text>
<line x1="338.7" x2="341.1" y1="809.4" y2="809.4" stroke="#000" stroke-width="0.75"/>
<text x="338.1" y="812.2" font-size="7.6" text-anchor="end" fill="#000" >50</text>
<line x1="338.7" x2="341.1" y1="781.2" y2="781.2" stroke="#000" stroke-width="0.75"/>
<text x="338.1" y="784" font-size="7.6" text-anchor="end" fill="#000" >100</text>
<line x1="350.2" x2="350.2" y1="837.6" y2="840" stroke="#000" stroke-width="0.75"/>
<text x="350.2" y="847.3" font-size="7.6" text-anchor="middle" fill="#000" >0.1</text>
<line x1="381" x2="381" y1="837.6" y2="840" stroke="#000" stroke-width="0.75"/>
<text x="381" y="847.3" font-size="7.6" text-anchor="middle" fill="#000" >1</text>
<line x1="411.8" x2="411.8" y1="837.6" y2="840" stroke="#000" stroke-width="0.75"/>
<text x="411.8" y="847.3" font-size="7.6" text-anchor="middle" fill="#000" >10</text>
<line x1="442.6" x2="442.6" y1="837.6" y2="840" stroke="#000" stroke-width="0.75"/>
<text x="442.6" y="847.3" font-size="7.6" text-anchor="middle" fill="#000" >100</text>
<line x1="341.1" x2="441.6" y1="809.4" y2="809.4" stroke="#000" stroke-width="0.55" stroke-dasharray="0.7 1.4"/>
<path d="M350.2 781.24 L351.74 781.24 L353.28 781.25 L354.82 781.25 L356.36 781.26 L357.9 781.27 L359.44 781.28 L360.98 781.29 L362.52 781.3 L364.06 781.32 L365.6 781.34 L367.14 781.36 L368.68 781.38 L370.22 781.4 L371.76 781.43 L373.3 781.47 L374.84 781.5 L376.38 781.55 L377.92 781.6 L379.46 781.65 L381 781.72 L382.54 781.79 L384.08 781.88 L385.62 781.97 L387.16 782.08 L388.7 782.21 L390.24 782.35 L391.78 782.51 L393.32 782.7 L394.86 782.9 L396.4 783.14 L397.94 783.41 L399.48 783.72 L401.02 784.06 L402.56 784.45 L404.1 784.89 L405.64 785.38 L407.18 785.93 L408.72 786.55 L410.26 787.24 L411.8 788 L413.34 788.85 L414.88 789.78 L416.42 790.81 L417.96 791.93 L419.5 793.15 L421.04 794.47 L422.58 795.89 L424.12 797.4 L425.66 798.99 L427.2 800.67 L428.74 802.42 L430.28 804.24 L431.82 806.09 L433.36 807.98 L434.9 809.87 L436.44 811.77 L437.98 813.64 L439.52 815.48 L441.06 817.26 L442.6 818.98" fill="none" stroke="#111" stroke-width="0.6"/>
<line x1="350.2" x2="350.2" y1="779.51" y2="781.76" stroke="#111" stroke-width="0.45"/>
<line x1="349.3" x2="351.1" y1="779.51" y2="779.51" stroke="#111" stroke-width="0.45"/>
<line x1="349.3" x2="351.1" y1="781.76" y2="781.76" stroke="#111" stroke-width="0.45"/>
<rect x="349.65" y="780.09" width="1.1" height="1.1" fill="#000"/>
<line x1="381" x2="381" y1="782.33" y2="785.71" stroke="#111" stroke-width="0.45"/>
<line x1="380.1" x2="381.9" y1="782.33" y2="782.33" stroke="#111" stroke-width="0.45"/>
<line x1="380.1" x2="381.9" y1="785.71" y2="785.71" stroke="#111" stroke-width="0.45"/>
<rect x="380.45" y="783.47" width="1.1" height="1.1" fill="#000"/>
<line x1="411.8" x2="411.8" y1="787.4" y2="793.04" stroke="#111" stroke-width="0.45"/>
<line x1="410.9" x2="412.7" y1="787.4" y2="787.4" stroke="#111" stroke-width="0.45"/>
<line x1="410.9" x2="412.7" y1="793.04" y2="793.04" stroke="#111" stroke-width="0.45"/>
<rect x="411.25" y="789.67" width="1.1" height="1.1" fill="#000"/>
<line x1="426.5" x2="426.5" y1="797.27" y2="801.22" stroke="#111" stroke-width="0.45"/>
<line x1="425.6" x2="427.4" y1="797.27" y2="797.27" stroke="#111" stroke-width="0.45"/>
<line x1="425.6" x2="427.4" y1="801.22" y2="801.22" stroke="#111" stroke-width="0.45"/>
<rect x="425.95" y="798.7" width="1.1" height="1.1" fill="#000"/>
<line x1="442.6" x2="442.6" y1="818.42" y2="819.55" stroke="#111" stroke-width="0.45"/>
<line x1="441.7" x2="443.5" y1="818.42" y2="818.42" stroke="#111" stroke-width="0.45"/>
<line x1="441.7" x2="443.5" y1="819.55" y2="819.55" stroke="#111" stroke-width="0.45"/>
<rect x="442.05" y="818.44" width="1.1" height="1.1" fill="#000"/>
<text x="399" y="773" font-size="7.3" text-anchor="middle" fill="#111" >Huh7 treated with VX-680</text>
<text x="400" y="779.2" font-size="7.3" text-anchor="middle" fill="#111" >(sh-PTBP2+EV)</text>
<text x="342.7" y="807.7" font-size="7.3" text-anchor="start" fill="#111" >IC50=54.64 μM</text>
<text x="395.4" y="854.1" font-size="7.3" text-anchor="middle" fill="#111" >Concentration (μM)</text>
<text x="324.7" y="807.5" font-size="7.3" text-anchor="middle" fill="#111" transform="rotate(-90 324.7 807.5)" >Cell Viability</text>
<path d="M483.2 771.2V838.4H585.7" fill="none" stroke="#000" stroke-width="0.75"/>
<line x1="480.8" x2="483.2" y1="838.4" y2="838.4" stroke="#000" stroke-width="0.75"/>
<text x="480.2" y="841.2" font-size="7.6" text-anchor="end" fill="#000" >0</text>
<line x1="480.8" x2="483.2" y1="810.25" y2="810.25" stroke="#000" stroke-width="0.75"/>
<text x="480.2" y="813.05" font-size="7.6" text-anchor="end" fill="#000" >50</text>
<line x1="480.8" x2="483.2" y1="782.1" y2="782.1" stroke="#000" stroke-width="0.75"/>
<text x="480.2" y="784.9" font-size="7.6" text-anchor="end" fill="#000" >100</text>
<line x1="492.7" x2="492.7" y1="838.4" y2="840.8" stroke="#000" stroke-width="0.75"/>
<text x="492.7" y="848.1" font-size="7.6" text-anchor="middle" fill="#000" >0.1</text>
<line x1="523.5" x2="523.5" y1="838.4" y2="840.8" stroke="#000" stroke-width="0.75"/>
<text x="523.5" y="848.1" font-size="7.6" text-anchor="middle" fill="#000" >1</text>
<line x1="554.3" x2="554.3" y1="838.4" y2="840.8" stroke="#000" stroke-width="0.75"/>
<text x="554.3" y="848.1" font-size="7.6" text-anchor="middle" fill="#000" >10</text>
<line x1="585.1" x2="585.1" y1="838.4" y2="840.8" stroke="#000" stroke-width="0.75"/>
<text x="585.1" y="848.1" font-size="7.6" text-anchor="middle" fill="#000" >100</text>
<line x1="483.2" x2="584.1" y1="810.25" y2="810.25" stroke="#000" stroke-width="0.55" stroke-dasharray="0.7 1.4"/>
<path d="M492.7 786.55 L494.24 786.83 L495.78 787.13 L497.32 787.45 L498.86 787.78 L500.4 788.13 L501.94 788.51 L503.48 788.9 L505.02 789.31 L506.56 789.75 L508.1 790.2 L509.64 790.68 L511.18 791.18 L512.72 791.71 L514.26 792.26 L515.8 792.83 L517.34 793.43 L518.88 794.05 L520.42 794.69 L521.96 795.36 L523.5 796.06 L525.04 796.78 L526.58 797.52 L528.12 798.29 L529.66 799.07 L531.2 799.88 L532.74 800.71 L534.28 801.56 L535.82 802.43 L537.36 803.31 L538.9 804.21 L540.44 805.12 L541.98 806.04 L543.52 806.97 L545.06 807.91 L546.6 808.85 L548.14 809.8 L549.68 810.75 L551.22 811.69 L552.76 812.64 L554.3 813.58 L555.84 814.51 L557.38 815.43 L558.92 816.34 L560.46 817.23 L562 818.12 L563.54 818.98 L565.08 819.83 L566.62 820.66 L568.16 821.47 L569.7 822.25 L571.24 823.02 L572.78 823.76 L574.32 824.48 L575.86 825.17 L577.4 825.84 L578.94 826.48 L580.48 827.1 L582.02 827.7 L583.56 828.27 L585.1 828.82" fill="none" stroke="#111" stroke-width="0.6"/>
<line x1="492.7" x2="492.7" y1="782.66" y2="787.17" stroke="#111" stroke-width="0.45"/>
<line x1="491.8" x2="493.6" y1="782.66" y2="782.66" stroke="#111" stroke-width="0.45"/>
<line x1="491.8" x2="493.6" y1="787.17" y2="787.17" stroke="#111" stroke-width="0.45"/>
<rect x="492.15" y="784.37" width="1.1" height="1.1" fill="#000"/>
<line x1="523.5" x2="523.5" y1="794.2" y2="801.52" stroke="#111" stroke-width="0.45"/>
<line x1="522.6" x2="524.4" y1="794.2" y2="794.2" stroke="#111" stroke-width="0.45"/>
<line x1="522.6" x2="524.4" y1="801.52" y2="801.52" stroke="#111" stroke-width="0.45"/>
<rect x="522.95" y="797.31" width="1.1" height="1.1" fill="#000"/>
<line x1="554.3" x2="554.3" y1="811.66" y2="815.6" stroke="#111" stroke-width="0.45"/>
<line x1="553.4" x2="555.2" y1="811.66" y2="811.66" stroke="#111" stroke-width="0.45"/>
<line x1="553.4" x2="555.2" y1="815.6" y2="815.6" stroke="#111" stroke-width="0.45"/>
<rect x="553.75" y="813.08" width="1.1" height="1.1" fill="#000"/>
<line x1="569" x2="569" y1="818.13" y2="823.76" stroke="#111" stroke-width="0.45"/>
<line x1="568.1" x2="569.9" y1="818.13" y2="818.13" stroke="#111" stroke-width="0.45"/>
<line x1="568.1" x2="569.9" y1="823.76" y2="823.76" stroke="#111" stroke-width="0.45"/>
<rect x="568.45" y="820.4" width="1.1" height="1.1" fill="#000"/>
<line x1="585.1" x2="585.1" y1="827.7" y2="829.95" stroke="#111" stroke-width="0.45"/>
<line x1="584.2" x2="586" y1="827.7" y2="827.7" stroke="#111" stroke-width="0.45"/>
<line x1="584.2" x2="586" y1="829.95" y2="829.95" stroke="#111" stroke-width="0.45"/>
<rect x="584.55" y="828.28" width="1.1" height="1.1" fill="#000"/>
<text x="540.7" y="774.8" font-size="7.3" text-anchor="middle" fill="#111" >Huh7 treated with VX-680</text>
<text x="541.7" y="781" font-size="7.3" text-anchor="middle" fill="#111" >(sh-NC+Flag-PTBP2)</text>
<text x="485.8" y="808.2" font-size="7.3" text-anchor="start" fill="#111" >IC50=6.664 μM</text>
<text x="537.1" y="854.1" font-size="7.3" text-anchor="middle" fill="#111" >Concentration (μM)</text>
<text x="467.3" y="808.5" font-size="7.3" text-anchor="middle" fill="#111" transform="rotate(-90 467.3 808.5)" >Cell Viability</text>
</svg>
</body></html>
